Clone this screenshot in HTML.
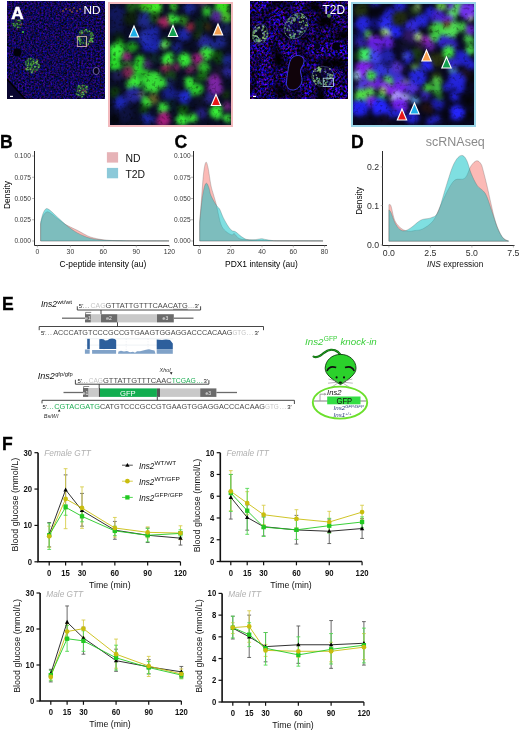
<!DOCTYPE html>
<html><head><meta charset="utf-8"><title>Figure</title>
<style>
html,body{margin:0;padding:0;background:#fff;}
body{width:520px;height:732px;overflow:hidden;}
svg{display:block;}
svg text{font-family:'Liberation Sans', Arial, Helvetica, sans-serif;}
</style></head><body>
<svg width="520" height="732" viewBox="0 0 520 732">
<defs>
<filter id="bl25" x="-10%" y="-10%" width="120%" height="120%"><feGaussianBlur stdDeviation="2.2"/></filter>
<filter id="bl3" x="-10%" y="-10%" width="120%" height="120%"><feGaussianBlur stdDeviation="3"/></filter>
<filter id="bl1" x="-20%" y="-20%" width="140%" height="140%"><feGaussianBlur stdDeviation="0.8"/></filter>
<filter id="nzND" x="0" y="0" width="100%" height="100%" color-interpolation-filters="sRGB">
 <feTurbulence type="fractalNoise" baseFrequency="0.55" numOctaves="2" seed="3" result="t"/>
 <feColorMatrix in="t" type="matrix" values="0.55 0 0.3 0 -0.36  0 0 0 0 0.03  0 0 1.15 0 -0.24  0 0 0 0 1"/>
</filter>
<filter id="nzT2D" x="0" y="0" width="100%" height="100%" color-interpolation-filters="sRGB">
 <feTurbulence type="fractalNoise" baseFrequency="0.42" numOctaves="2" seed="11" result="t"/>
 <feColorMatrix in="t" type="matrix" values="0.9 0 0.6 0 -0.66  0 0 0 0 0.02  0 0 2.6 0 -0.9  0 0 0 0 1" result="c0"/>
 <feGaussianBlur in="c0" stdDeviation="0.35" result="c"/>
 <feTurbulence type="fractalNoise" baseFrequency="0.07" numOctaves="1" seed="5" result="lo"/>
 <feColorMatrix in="lo" type="matrix" values="3 0 0 0 -0.75  3 0 0 0 -0.75  3 0 0 0 -0.75  0 0 0 0 1" result="lm"/>
 <feComposite in="c" in2="lm" operator="arithmetic" k1="1" k2="0" k3="0" k4="0"/>
</filter>
<filter id="nzIs" x="0" y="0" width="100%" height="100%" color-interpolation-filters="sRGB">
 <feTurbulence type="fractalNoise" baseFrequency="0.8" numOctaves="1" seed="5" result="t"/>
 <feColorMatrix in="t" type="matrix" values="0 0 0 0 0  0 0 0 0 0  0 0 0 0 0  -6 0 0 0 3.3"/>
</filter>
<filter id="tex" x="0" y="0" width="100%" height="100%" color-interpolation-filters="sRGB">
 <feTurbulence type="fractalNoise" baseFrequency="0.35" numOctaves="2" seed="9" result="t"/>
 <feColorMatrix in="t" type="matrix" values="0 0 0 0 0  0 0 0 0 0  0 0 0 0 0  -2.2 0 0 0 1.25"/>
</filter>
<filter id="mic1" x="0" y="0" width="100%" height="100%" color-interpolation-filters="sRGB">
 <feTurbulence type="fractalNoise" baseFrequency="0.18" numOctaves="2" seed="4" result="n"/>
 <feDisplacementMap in="SourceGraphic" in2="n" scale="6" xChannelSelector="R" yChannelSelector="G" result="d"/>
 <feGaussianBlur in="d" stdDeviation="2.0" result="b0"/>
 <feColorMatrix in="b0" type="matrix" values="0.85 0 0 0 0  0 1.15 0 0 0  0 0 0.85 0 0  0 0 0 1 0" result="b"/>
 <feTurbulence type="fractalNoise" baseFrequency="0.3" numOctaves="2" seed="8" result="g"/>
 <feColorMatrix in="g" type="matrix" values="1.3 0 0 0 0.38  1.3 0 0 0 0.38  1.3 0 0 0 0.38  0 0 0 0 1" result="gm"/>
 <feComposite in="b" in2="gm" operator="arithmetic" k1="1" k2="0" k3="0" k4="0"/>
</filter>
<filter id="mic2" x="0" y="0" width="100%" height="100%" color-interpolation-filters="sRGB">
 <feTurbulence type="fractalNoise" baseFrequency="0.18" numOctaves="2" seed="14" result="n"/>
 <feDisplacementMap in="SourceGraphic" in2="n" scale="6" xChannelSelector="R" yChannelSelector="G" result="d"/>
 <feGaussianBlur in="d" stdDeviation="2.1" result="b0"/>
 <feColorMatrix in="b0" type="matrix" values="1.0 0 0 0 0  0 1.0 0 0 0  0 0 1.05 0 0  0 0 0 1 0" result="b"/>
 <feTurbulence type="fractalNoise" baseFrequency="0.3" numOctaves="2" seed="18" result="g"/>
 <feColorMatrix in="g" type="matrix" values="1.1 0 0 0 0.48  1.1 0 0 0 0.48  1.1 0 0 0 0.48  0 0 0 0 1" result="gm"/>
 <feComposite in="b" in2="gm" operator="arithmetic" k1="1" k2="0" k3="0" k4="0"/>
</filter>
<clipPath id="cND"><rect x="7" y="1" width="98" height="98"/></clipPath>
<clipPath id="cT2D"><rect x="250" y="1" width="98" height="98"/></clipPath>
<clipPath id="cZ1"><rect x="110" y="4" width="121" height="121"/></clipPath>
<clipPath id="cZ2"><rect x="353" y="4" width="121" height="121"/></clipPath>
</defs><g clip-path="url(#cND)"><rect x="7" y="1" width="98" height="98" filter="url(#nzND)"/><polygon points="7,79 25,99 7,99" fill="#0a0630"/><line x1="7" y1="79" x2="25" y2="99" stroke="#000" stroke-width="1.6"/><circle cx="17.3" cy="52.5" r="4" fill="#020208"/><ellipse cx="96.2" cy="71" rx="3" ry="3.6" fill="#06031a" stroke="#7868b8" stroke-width="0.9"/><path d="M94,75 L88,84" stroke="#06031a" stroke-width="1.2"/><circle cx="66" cy="9" r="1" fill="#a06030" opacity="0.75"/><circle cx="70" cy="10" r="1" fill="#a06030" opacity="0.75"/><circle cx="74" cy="8" r="1" fill="#a06030" opacity="0.75"/><circle cx="77" cy="11" r="1" fill="#a06030" opacity="0.75"/><circle cx="80" cy="9" r="1" fill="#a06030" opacity="0.75"/><circle cx="63" cy="11" r="1" fill="#a06030" opacity="0.75"/><circle cx="72" cy="12" r="1" fill="#a06030" opacity="0.75"/><g><circle cx="17" cy="24" r="5" fill="#1a5a1a" opacity="0.3" filter="url(#bl1)"/><circle cx="20.1" cy="27.4" r="0.6" fill="#348a30" opacity="0.9"/><circle cx="13.6" cy="24.1" r="0.9" fill="#348a30" opacity="0.9"/><circle cx="17.7" cy="24.5" r="0.7" fill="#348a30" opacity="0.9"/><circle cx="17.0" cy="23.8" r="0.8" fill="#6cc850" opacity="0.9"/><circle cx="17.6" cy="28.8" r="0.5" fill="#803050" opacity="0.9"/><circle cx="20.6" cy="24.6" r="0.7" fill="#803050" opacity="0.9"/><circle cx="17.7" cy="27.2" r="0.6" fill="#6cc850" opacity="0.9"/><circle cx="13.7" cy="25.3" r="0.6" fill="#6cc850" opacity="0.9"/><circle cx="17.7" cy="27.3" r="0.5" fill="#6cc850" opacity="0.9"/><circle cx="19.0" cy="20.8" r="0.6" fill="#348a30" opacity="0.9"/><circle cx="21.6" cy="23.8" r="0.6" fill="#6cc850" opacity="0.9"/><circle cx="16.2" cy="19.9" r="0.7" fill="#803050" opacity="0.9"/><circle cx="19.0" cy="20.4" r="0.8" fill="#6cc850" opacity="0.9"/><circle cx="20.4" cy="20.9" r="0.8" fill="#348a30" opacity="0.9"/><circle cx="19.4" cy="24.5" r="0.7" fill="#348a30" opacity="0.9"/><circle cx="18.7" cy="27.3" r="0.8" fill="#348a30" opacity="0.9"/><circle cx="14.7" cy="26.3" r="0.9" fill="#348a30" opacity="0.9"/><circle cx="13.9" cy="23.6" r="0.5" fill="#6cc850" opacity="0.9"/><circle cx="21.0" cy="25.1" r="0.8" fill="#803050" opacity="0.9"/><circle cx="15.4" cy="25.3" r="1.0" fill="#348a30" opacity="0.9"/><circle cx="17.5" cy="20.4" r="0.6" fill="#348a30" opacity="0.9"/><circle cx="12.1" cy="23.6" r="0.7" fill="#348a30" opacity="0.9"/></g><g><circle cx="85.5" cy="37.5" r="8.5" fill="#1a5a1a" opacity="0.3" filter="url(#bl1)"/><circle cx="93.5" cy="35.2" r="0.5" fill="#6cc850" opacity="0.9"/><circle cx="89.4" cy="31.0" r="0.6" fill="#348a30" opacity="0.9"/><circle cx="79.9" cy="33.1" r="0.5" fill="#348a30" opacity="0.9"/><circle cx="79.7" cy="40.2" r="1.0" fill="#348a30" opacity="0.9"/><circle cx="92.1" cy="35.3" r="0.6" fill="#6cc850" opacity="0.9"/><circle cx="90.6" cy="38.7" r="0.6" fill="#6cc850" opacity="0.9"/><circle cx="79.6" cy="43.1" r="0.8" fill="#348a30" opacity="0.9"/><circle cx="86.0" cy="42.7" r="0.5" fill="#6cc850" opacity="0.9"/><circle cx="77.0" cy="37.0" r="0.6" fill="#348a30" opacity="0.9"/><circle cx="91.6" cy="32.7" r="0.9" fill="#348a30" opacity="0.9"/><circle cx="86.1" cy="29.7" r="1.0" fill="#6cc850" opacity="0.9"/><circle cx="91.0" cy="36.2" r="0.8" fill="#348a30" opacity="0.9"/><circle cx="78.8" cy="39.2" r="1.0" fill="#6cc850" opacity="0.9"/><circle cx="77.6" cy="37.5" r="0.9" fill="#6cc850" opacity="0.9"/><circle cx="90.9" cy="33.6" r="1.0" fill="#348a30" opacity="0.9"/><circle cx="84.4" cy="30.8" r="0.6" fill="#6cc850" opacity="0.9"/><circle cx="83.7" cy="32.1" r="0.6" fill="#803050" opacity="0.9"/><circle cx="90.7" cy="34.2" r="0.8" fill="#803050" opacity="0.9"/><circle cx="78.6" cy="37.3" r="0.8" fill="#348a30" opacity="0.9"/><circle cx="83.3" cy="42.9" r="1.0" fill="#348a30" opacity="0.9"/><circle cx="81.7" cy="33.8" r="0.8" fill="#348a30" opacity="0.9"/><circle cx="90.3" cy="34.3" r="0.5" fill="#348a30" opacity="0.9"/><circle cx="82.0" cy="32.6" r="0.9" fill="#6cc850" opacity="0.9"/><circle cx="90.9" cy="41.8" r="0.6" fill="#348a30" opacity="0.9"/><circle cx="87.5" cy="45.3" r="0.8" fill="#6cc850" opacity="0.9"/><circle cx="91.7" cy="38.8" r="0.8" fill="#6cc850" opacity="0.9"/><circle cx="92.7" cy="41.7" r="0.9" fill="#6cc850" opacity="0.9"/><circle cx="91.4" cy="38.3" r="0.5" fill="#348a30" opacity="0.9"/><circle cx="88.5" cy="44.3" r="0.5" fill="#6cc850" opacity="0.9"/><circle cx="91.1" cy="37.1" r="0.6" fill="#6cc850" opacity="0.9"/><circle cx="79.8" cy="32.4" r="0.6" fill="#6cc850" opacity="0.9"/><circle cx="92.0" cy="38.8" r="0.9" fill="#348a30" opacity="0.9"/><circle cx="91.8" cy="33.1" r="0.8" fill="#348a30" opacity="0.9"/><circle cx="79.7" cy="38.5" r="0.6" fill="#348a30" opacity="0.9"/><circle cx="90.8" cy="41.5" r="0.5" fill="#348a30" opacity="0.9"/><circle cx="80.0" cy="34.2" r="0.5" fill="#348a30" opacity="0.9"/><circle cx="91.3" cy="36.0" r="0.7" fill="#348a30" opacity="0.9"/><circle cx="92.5" cy="38.3" r="0.5" fill="#6cc850" opacity="0.9"/><circle cx="91.0" cy="38.7" r="0.8" fill="#6cc850" opacity="0.9"/><circle cx="77.1" cy="37.1" r="1.0" fill="#803050" opacity="0.9"/><circle cx="86.2" cy="44.1" r="0.8" fill="#6cc850" opacity="0.9"/><circle cx="79.9" cy="32.0" r="0.6" fill="#348a30" opacity="0.9"/><circle cx="79.4" cy="40.7" r="0.5" fill="#6cc850" opacity="0.9"/><circle cx="80.9" cy="40.5" r="0.6" fill="#348a30" opacity="0.9"/><circle cx="90.1" cy="40.9" r="0.6" fill="#6cc850" opacity="0.9"/><circle cx="78.9" cy="36.6" r="0.8" fill="#6cc850" opacity="0.9"/><circle cx="87.4" cy="45.5" r="0.9" fill="#803050" opacity="0.9"/><circle cx="79.2" cy="40.3" r="0.5" fill="#348a30" opacity="0.9"/><circle cx="79.5" cy="40.9" r="0.5" fill="#6cc850" opacity="0.9"/><circle cx="87.6" cy="31.5" r="1.0" fill="#348a30" opacity="0.9"/><circle cx="80.8" cy="33.6" r="0.7" fill="#803050" opacity="0.9"/><circle cx="92.9" cy="38.4" r="0.6" fill="#6cc850" opacity="0.9"/><circle cx="89.5" cy="31.3" r="0.7" fill="#6cc850" opacity="0.9"/><circle cx="79.8" cy="41.1" r="0.8" fill="#6cc850" opacity="0.9"/><circle cx="90.9" cy="40.2" r="1.0" fill="#6cc850" opacity="0.9"/><circle cx="92.3" cy="41.0" r="0.8" fill="#6cc850" opacity="0.9"/><circle cx="80.3" cy="41.7" r="0.7" fill="#348a30" opacity="0.9"/><circle cx="89.5" cy="41.3" r="0.9" fill="#6cc850" opacity="0.9"/><circle cx="80.2" cy="31.0" r="0.5" fill="#348a30" opacity="0.9"/><circle cx="81.3" cy="31.0" r="0.7" fill="#348a30" opacity="0.9"/><circle cx="81.3" cy="42.7" r="0.6" fill="#348a30" opacity="0.9"/><circle cx="78.9" cy="36.4" r="0.9" fill="#803050" opacity="0.9"/><circle cx="92.7" cy="34.2" r="0.6" fill="#6cc850" opacity="0.9"/><circle cx="79.5" cy="37.9" r="0.8" fill="#6cc850" opacity="0.9"/><circle cx="91.7" cy="34.0" r="0.5" fill="#348a30" opacity="0.9"/><circle cx="80.3" cy="44.2" r="0.7" fill="#6cc850" opacity="0.9"/><circle cx="90.4" cy="39.7" r="1.0" fill="#348a30" opacity="0.9"/><circle cx="82.2" cy="33.1" r="0.6" fill="#6cc850" opacity="0.9"/><circle cx="82.0" cy="31.0" r="0.7" fill="#6cc850" opacity="0.9"/><circle cx="90.8" cy="42.0" r="0.9" fill="#803050" opacity="0.9"/><circle cx="91.1" cy="41.4" r="0.6" fill="#348a30" opacity="0.9"/><circle cx="90.8" cy="33.4" r="0.7" fill="#348a30" opacity="0.9"/><circle cx="93.3" cy="37.3" r="0.5" fill="#348a30" opacity="0.9"/><circle cx="80.7" cy="39.4" r="0.9" fill="#348a30" opacity="0.9"/><circle cx="88.4" cy="43.7" r="0.7" fill="#6cc850" opacity="0.9"/></g><g><circle cx="32" cy="65.5" r="7.5" fill="#1a5a1a" opacity="0.3" filter="url(#bl1)"/><circle cx="32.4" cy="71.0" r="0.8" fill="#6cc850" opacity="0.9"/><circle cx="30.6" cy="64.1" r="0.9" fill="#6cc850" opacity="0.9"/><circle cx="31.8" cy="69.1" r="0.7" fill="#803050" opacity="0.9"/><circle cx="34.7" cy="61.1" r="0.5" fill="#348a30" opacity="0.9"/><circle cx="27.4" cy="60.3" r="0.9" fill="#348a30" opacity="0.9"/><circle cx="31.1" cy="63.8" r="0.8" fill="#348a30" opacity="0.9"/><circle cx="31.6" cy="66.8" r="0.7" fill="#348a30" opacity="0.9"/><circle cx="30.6" cy="58.6" r="1.0" fill="#348a30" opacity="0.9"/><circle cx="26.7" cy="69.6" r="1.0" fill="#6cc850" opacity="0.9"/><circle cx="33.7" cy="63.9" r="0.6" fill="#6cc850" opacity="0.9"/><circle cx="36.8" cy="64.4" r="0.6" fill="#348a30" opacity="0.9"/><circle cx="27.3" cy="65.3" r="0.8" fill="#6cc850" opacity="0.9"/><circle cx="25.8" cy="61.9" r="1.0" fill="#348a30" opacity="0.9"/><circle cx="36.6" cy="59.6" r="0.5" fill="#348a30" opacity="0.9"/><circle cx="36.7" cy="59.8" r="0.8" fill="#803050" opacity="0.9"/><circle cx="31.2" cy="62.1" r="0.8" fill="#348a30" opacity="0.9"/><circle cx="31.6" cy="67.3" r="1.0" fill="#348a30" opacity="0.9"/><circle cx="37.7" cy="69.0" r="0.5" fill="#6cc850" opacity="0.9"/><circle cx="30.2" cy="71.8" r="0.5" fill="#348a30" opacity="0.9"/><circle cx="30.8" cy="64.5" r="0.6" fill="#348a30" opacity="0.9"/><circle cx="37.4" cy="60.4" r="1.0" fill="#348a30" opacity="0.9"/><circle cx="31.2" cy="67.4" r="0.5" fill="#348a30" opacity="0.9"/><circle cx="33.6" cy="70.0" r="0.5" fill="#348a30" opacity="0.9"/><circle cx="38.7" cy="67.3" r="1.0" fill="#6cc850" opacity="0.9"/><circle cx="35.7" cy="62.7" r="0.7" fill="#6cc850" opacity="0.9"/><circle cx="28.4" cy="61.0" r="0.8" fill="#348a30" opacity="0.9"/><circle cx="37.0" cy="63.6" r="0.8" fill="#6cc850" opacity="0.9"/><circle cx="32.3" cy="69.6" r="0.7" fill="#803050" opacity="0.9"/><circle cx="31.2" cy="65.3" r="0.8" fill="#6cc850" opacity="0.9"/><circle cx="37.8" cy="66.2" r="0.5" fill="#348a30" opacity="0.9"/><circle cx="28.4" cy="61.8" r="0.6" fill="#348a30" opacity="0.9"/><circle cx="30.3" cy="59.3" r="0.5" fill="#6cc850" opacity="0.9"/><circle cx="28.7" cy="58.9" r="0.7" fill="#6cc850" opacity="0.9"/><circle cx="28.5" cy="63.2" r="0.6" fill="#6cc850" opacity="0.9"/><circle cx="28.1" cy="69.7" r="0.7" fill="#6cc850" opacity="0.9"/><circle cx="32.2" cy="64.3" r="0.9" fill="#348a30" opacity="0.9"/><circle cx="30.7" cy="68.8" r="0.6" fill="#348a30" opacity="0.9"/><circle cx="33.9" cy="70.1" r="0.5" fill="#348a30" opacity="0.9"/><circle cx="30.1" cy="69.4" r="0.7" fill="#348a30" opacity="0.9"/><circle cx="33.9" cy="63.1" r="0.8" fill="#6cc850" opacity="0.9"/><circle cx="35.8" cy="62.2" r="0.5" fill="#6cc850" opacity="0.9"/><circle cx="28.8" cy="64.9" r="0.9" fill="#348a30" opacity="0.9"/><circle cx="33.6" cy="69.1" r="0.8" fill="#348a30" opacity="0.9"/><circle cx="33.5" cy="61.4" r="0.6" fill="#6cc850" opacity="0.9"/><circle cx="33.1" cy="61.7" r="0.7" fill="#6cc850" opacity="0.9"/><circle cx="27.8" cy="67.8" r="0.5" fill="#803050" opacity="0.9"/><circle cx="39.3" cy="65.7" r="1.0" fill="#348a30" opacity="0.9"/><circle cx="25.3" cy="68.4" r="0.6" fill="#803050" opacity="0.9"/><circle cx="31.8" cy="58.6" r="0.7" fill="#348a30" opacity="0.9"/><circle cx="30.9" cy="69.7" r="0.5" fill="#6cc850" opacity="0.9"/><circle cx="28.6" cy="63.4" r="0.5" fill="#348a30" opacity="0.9"/><circle cx="37.1" cy="61.9" r="0.9" fill="#803050" opacity="0.9"/><circle cx="36.6" cy="62.1" r="0.9" fill="#6cc850" opacity="0.9"/><circle cx="33.9" cy="69.1" r="0.7" fill="#348a30" opacity="0.9"/><circle cx="25.8" cy="69.2" r="0.6" fill="#348a30" opacity="0.9"/><circle cx="31.9" cy="72.5" r="0.9" fill="#6cc850" opacity="0.9"/><circle cx="30.0" cy="68.2" r="0.9" fill="#348a30" opacity="0.9"/><circle cx="35.2" cy="71.4" r="0.9" fill="#803050" opacity="0.9"/><circle cx="32.3" cy="64.9" r="0.9" fill="#348a30" opacity="0.9"/><circle cx="35.7" cy="66.7" r="0.7" fill="#6cc850" opacity="0.9"/><circle cx="27.4" cy="67.9" r="0.5" fill="#348a30" opacity="0.9"/><circle cx="34.5" cy="66.4" r="0.5" fill="#6cc850" opacity="0.9"/><circle cx="38.8" cy="64.4" r="0.7" fill="#6cc850" opacity="0.9"/><circle cx="30.3" cy="69.4" r="0.8" fill="#6cc850" opacity="0.9"/><circle cx="28.1" cy="63.2" r="0.6" fill="#6cc850" opacity="0.9"/><circle cx="36.0" cy="69.4" r="0.7" fill="#348a30" opacity="0.9"/><circle cx="34.8" cy="67.0" r="0.8" fill="#6cc850" opacity="0.9"/><circle cx="32.9" cy="61.0" r="0.8" fill="#348a30" opacity="0.9"/><circle cx="27.8" cy="67.4" r="0.8" fill="#6cc850" opacity="0.9"/><circle cx="26.5" cy="68.5" r="0.6" fill="#6cc850" opacity="0.9"/><circle cx="25.9" cy="64.1" r="0.7" fill="#6cc850" opacity="0.9"/><circle cx="25.7" cy="68.7" r="0.7" fill="#803050" opacity="0.9"/><circle cx="37.3" cy="61.5" r="0.7" fill="#6cc850" opacity="0.9"/><circle cx="36.8" cy="70.2" r="0.9" fill="#348a30" opacity="0.9"/><circle cx="33.6" cy="59.6" r="0.8" fill="#348a30" opacity="0.9"/></g><g><circle cx="81.8" cy="90.5" r="6.5" fill="#1a5a1a" opacity="0.3" filter="url(#bl1)"/><circle cx="82.0" cy="92.6" r="0.5" fill="#6cc850" opacity="0.9"/><circle cx="85.6" cy="92.2" r="0.9" fill="#803050" opacity="0.9"/><circle cx="82.1" cy="87.5" r="0.6" fill="#348a30" opacity="0.9"/><circle cx="82.8" cy="92.4" r="1.0" fill="#6cc850" opacity="0.9"/><circle cx="84.6" cy="85.4" r="0.6" fill="#348a30" opacity="0.9"/><circle cx="79.9" cy="95.3" r="0.9" fill="#348a30" opacity="0.9"/><circle cx="83.2" cy="89.2" r="0.8" fill="#348a30" opacity="0.9"/><circle cx="79.1" cy="90.4" r="0.5" fill="#6cc850" opacity="0.9"/><circle cx="87.3" cy="88.1" r="0.6" fill="#348a30" opacity="0.9"/><circle cx="85.9" cy="87.8" r="0.9" fill="#348a30" opacity="0.9"/><circle cx="77.6" cy="90.3" r="0.7" fill="#348a30" opacity="0.9"/><circle cx="83.7" cy="93.5" r="0.5" fill="#348a30" opacity="0.9"/><circle cx="86.7" cy="92.0" r="0.7" fill="#6cc850" opacity="0.9"/><circle cx="78.1" cy="91.2" r="0.6" fill="#803050" opacity="0.9"/><circle cx="79.3" cy="92.0" r="0.6" fill="#348a30" opacity="0.9"/><circle cx="78.3" cy="94.9" r="0.8" fill="#6cc850" opacity="0.9"/><circle cx="83.5" cy="89.3" r="0.6" fill="#6cc850" opacity="0.9"/><circle cx="82.3" cy="85.4" r="0.6" fill="#6cc850" opacity="0.9"/><circle cx="83.7" cy="94.5" r="0.8" fill="#6cc850" opacity="0.9"/><circle cx="86.8" cy="86.6" r="1.0" fill="#348a30" opacity="0.9"/><circle cx="85.3" cy="90.9" r="0.9" fill="#803050" opacity="0.9"/><circle cx="76.5" cy="93.9" r="0.9" fill="#348a30" opacity="0.9"/><circle cx="81.0" cy="93.2" r="0.5" fill="#6cc850" opacity="0.9"/><circle cx="77.1" cy="94.8" r="0.5" fill="#6cc850" opacity="0.9"/><circle cx="84.4" cy="91.2" r="0.6" fill="#348a30" opacity="0.9"/><circle cx="81.3" cy="92.5" r="0.7" fill="#803050" opacity="0.9"/><circle cx="82.2" cy="92.0" r="0.5" fill="#6cc850" opacity="0.9"/><circle cx="80.7" cy="88.2" r="0.7" fill="#6cc850" opacity="0.9"/><circle cx="81.8" cy="97.0" r="0.7" fill="#6cc850" opacity="0.9"/><circle cx="82.4" cy="86.4" r="0.7" fill="#803050" opacity="0.9"/><circle cx="82.0" cy="94.7" r="0.7" fill="#6cc850" opacity="0.9"/><circle cx="81.9" cy="96.6" r="0.7" fill="#348a30" opacity="0.9"/><circle cx="85.0" cy="91.1" r="0.6" fill="#6cc850" opacity="0.9"/><circle cx="82.5" cy="96.5" r="0.5" fill="#6cc850" opacity="0.9"/><circle cx="86.2" cy="88.4" r="0.7" fill="#803050" opacity="0.9"/><circle cx="86.1" cy="87.4" r="0.9" fill="#348a30" opacity="0.9"/><circle cx="79.8" cy="90.6" r="0.9" fill="#6cc850" opacity="0.9"/><circle cx="86.9" cy="86.8" r="0.8" fill="#6cc850" opacity="0.9"/><circle cx="83.4" cy="85.5" r="0.7" fill="#348a30" opacity="0.9"/><circle cx="78.8" cy="86.1" r="1.0" fill="#6cc850" opacity="0.9"/><circle cx="83.5" cy="90.0" r="1.0" fill="#803050" opacity="0.9"/><circle cx="81.1" cy="89.3" r="0.5" fill="#348a30" opacity="0.9"/><circle cx="87.0" cy="89.5" r="0.5" fill="#6cc850" opacity="0.9"/><circle cx="78.6" cy="86.8" r="1.0" fill="#348a30" opacity="0.9"/><circle cx="81.9" cy="90.9" r="0.5" fill="#803050" opacity="0.9"/><circle cx="83.4" cy="88.9" r="0.9" fill="#348a30" opacity="0.9"/><circle cx="85.3" cy="87.2" r="0.6" fill="#348a30" opacity="0.9"/><circle cx="80.0" cy="87.2" r="0.9" fill="#348a30" opacity="0.9"/><circle cx="77.2" cy="91.3" r="0.5" fill="#6cc850" opacity="0.9"/><circle cx="78.0" cy="88.0" r="0.8" fill="#348a30" opacity="0.9"/></g><circle cx="23" cy="32" r="1" fill="#3ec83e"/></g><rect x="77.3" y="36.6" width="9.3" height="9.9" fill="none" stroke="#e2c4b8" stroke-width="0.8"/><rect x="10" y="95.8" width="3" height="1.2" fill="#fff"/><text x="11.2" y="18.8" font-size="17.2" fill="#fff" font-weight="bold" stroke="#fff" stroke-width="0.5">A</text><text x="83.4" y="14.3" font-size="11.8" fill="#fff">ND</text><g clip-path="url(#cT2D)"><rect x="250" y="1" width="98" height="98" filter="url(#nzT2D)"/><path d="M297,55.5 C301,55 304.5,58 304,62 C303.5,66 300,68 300.5,72 C301,76 303,79 301.5,83 C300,87 296,90.5 292,90 C288,89.5 286,86 286.5,82 C287,76 288,70 289,65 C290,59 293,56 297,55.5 Z" fill="#10030a" stroke="#3a3ad8" stroke-width="1"/><circle cx="336" cy="46.5" r="3.8" fill="#03020c"/><circle cx="317.3" cy="46.5" r="2.8" fill="#06041a"/><g><ellipse cx="296" cy="26" rx="10.7" ry="13.8" transform="rotate(35 296 26)" fill="#0a0828" fill-opacity="0.5" stroke="#8aa8e0" stroke-width="0.8" stroke-opacity="0.4"/><circle cx="294.0" cy="36.8" r="0.8" fill="#a0d0a0" opacity="0.8"/><circle cx="290.8" cy="37.0" r="0.6" fill="#50a080" opacity="0.8"/><circle cx="289.5" cy="18.9" r="0.7" fill="#88c060" opacity="0.8"/><circle cx="294.4" cy="21.1" r="1.0" fill="#60a050" opacity="0.8"/><circle cx="299.1" cy="17.0" r="0.8" fill="#6868c8" opacity="0.8"/><circle cx="300.4" cy="31.4" r="0.9" fill="#6868c8" opacity="0.8"/><circle cx="297.1" cy="13.9" r="0.6" fill="#88c060" opacity="0.8"/><circle cx="301.4" cy="22.2" r="0.7" fill="#88c060" opacity="0.8"/><circle cx="292.2" cy="19.9" r="0.6" fill="#6868c8" opacity="0.8"/><circle cx="297.7" cy="16.7" r="0.5" fill="#60a050" opacity="0.8"/><circle cx="292.1" cy="36.6" r="1.0" fill="#50a080" opacity="0.8"/><circle cx="299.5" cy="34.1" r="1.0" fill="#50a080" opacity="0.8"/><circle cx="291.4" cy="38.0" r="0.7" fill="#50a080" opacity="0.8"/><circle cx="287.6" cy="29.1" r="0.7" fill="#6868c8" opacity="0.8"/><circle cx="290.3" cy="23.0" r="0.6" fill="#88c060" opacity="0.8"/><circle cx="301.7" cy="14.0" r="0.8" fill="#88c060" opacity="0.8"/><circle cx="290.9" cy="17.9" r="0.8" fill="#60a050" opacity="0.8"/><circle cx="285.5" cy="33.5" r="0.6" fill="#88c060" opacity="0.8"/><circle cx="294.2" cy="34.4" r="0.7" fill="#a0d0a0" opacity="0.8"/><circle cx="294.3" cy="18.8" r="0.6" fill="#88c060" opacity="0.8"/><circle cx="302.1" cy="26.1" r="0.7" fill="#6868c8" opacity="0.8"/><circle cx="299.0" cy="15.3" r="0.7" fill="#60a050" opacity="0.8"/><circle cx="305.0" cy="31.2" r="0.5" fill="#50a080" opacity="0.8"/><circle cx="287.4" cy="30.3" r="1.0" fill="#60a050" opacity="0.8"/><circle cx="290.0" cy="34.9" r="0.9" fill="#6868c8" opacity="0.8"/><circle cx="302.7" cy="18.5" r="0.5" fill="#a0d0a0" opacity="0.8"/><circle cx="290.9" cy="32.8" r="0.6" fill="#6868c8" opacity="0.8"/><circle cx="285.1" cy="27.9" r="1.0" fill="#60a050" opacity="0.8"/><circle cx="301.6" cy="17.6" r="0.6" fill="#a0d0a0" opacity="0.8"/><circle cx="297.2" cy="14.0" r="0.5" fill="#6868c8" opacity="0.8"/><circle cx="290.9" cy="37.3" r="1.0" fill="#60a050" opacity="0.8"/><circle cx="294.3" cy="17.8" r="1.0" fill="#50a080" opacity="0.8"/><circle cx="291.0" cy="23.7" r="0.7" fill="#50a080" opacity="0.8"/><circle cx="299.5" cy="21.9" r="1.0" fill="#60a050" opacity="0.8"/><circle cx="302.0" cy="32.1" r="1.0" fill="#60a050" opacity="0.8"/><circle cx="293.9" cy="19.5" r="0.9" fill="#6868c8" opacity="0.8"/><circle cx="301.4" cy="21.9" r="0.6" fill="#60a050" opacity="0.8"/><circle cx="297.2" cy="30.6" r="0.9" fill="#6868c8" opacity="0.8"/><circle cx="298.2" cy="31.1" r="0.6" fill="#a0d0a0" opacity="0.8"/><circle cx="291.8" cy="20.5" r="1.0" fill="#6868c8" opacity="0.8"/><circle cx="295.5" cy="19.4" r="0.6" fill="#6868c8" opacity="0.8"/><circle cx="302.6" cy="16.0" r="0.9" fill="#50a080" opacity="0.8"/><circle cx="306.4" cy="22.7" r="0.7" fill="#88c060" opacity="0.8"/><circle cx="304.0" cy="23.0" r="0.6" fill="#50a080" opacity="0.8"/><circle cx="299.3" cy="18.6" r="0.7" fill="#50a080" opacity="0.8"/><circle cx="300.4" cy="32.0" r="0.9" fill="#a0d0a0" opacity="0.8"/><circle cx="304.3" cy="30.9" r="0.8" fill="#50a080" opacity="0.8"/><circle cx="292.6" cy="17.9" r="0.8" fill="#88c060" opacity="0.8"/><circle cx="302.8" cy="14.6" r="0.7" fill="#a0d0a0" opacity="0.8"/><circle cx="295.4" cy="15.2" r="0.5" fill="#60a050" opacity="0.8"/><circle cx="306.4" cy="18.3" r="0.5" fill="#a0d0a0" opacity="0.8"/><circle cx="297.3" cy="17.1" r="0.9" fill="#88c060" opacity="0.8"/><circle cx="295.5" cy="14.9" r="0.8" fill="#6868c8" opacity="0.8"/><circle cx="305.1" cy="27.8" r="0.8" fill="#6868c8" opacity="0.8"/><circle cx="288.5" cy="19.5" r="0.6" fill="#88c060" opacity="0.8"/><circle cx="300.2" cy="32.5" r="0.7" fill="#60a050" opacity="0.8"/><circle cx="293.8" cy="18.3" r="0.8" fill="#6868c8" opacity="0.8"/><circle cx="291.2" cy="34.0" r="0.6" fill="#6868c8" opacity="0.8"/><circle cx="305.5" cy="25.6" r="0.8" fill="#88c060" opacity="0.8"/><circle cx="288.2" cy="21.2" r="0.9" fill="#60a050" opacity="0.8"/><circle cx="295.6" cy="15.2" r="0.9" fill="#50a080" opacity="0.8"/><circle cx="298.1" cy="18.5" r="0.7" fill="#6868c8" opacity="0.8"/><circle cx="294.8" cy="15.1" r="0.6" fill="#88c060" opacity="0.8"/><circle cx="291.4" cy="37.7" r="0.5" fill="#60a050" opacity="0.8"/><circle cx="293.7" cy="35.7" r="1.0" fill="#50a080" opacity="0.8"/><circle cx="301.4" cy="17.6" r="1.0" fill="#88c060" opacity="0.8"/><circle cx="294.3" cy="35.1" r="0.7" fill="#a0d0a0" opacity="0.8"/><circle cx="293.9" cy="20.1" r="1.0" fill="#88c060" opacity="0.8"/><circle cx="289.5" cy="30.4" r="1.0" fill="#60a050" opacity="0.8"/><circle cx="291.1" cy="22.1" r="0.9" fill="#a0d0a0" opacity="0.8"/><circle cx="294.8" cy="34.7" r="0.7" fill="#6868c8" opacity="0.8"/><circle cx="295.3" cy="18.6" r="0.9" fill="#60a050" opacity="0.8"/><circle cx="295.6" cy="20.2" r="0.5" fill="#60a050" opacity="0.8"/><circle cx="306.1" cy="18.2" r="0.5" fill="#a0d0a0" opacity="0.8"/><circle cx="292.3" cy="23.4" r="0.7" fill="#50a080" opacity="0.8"/><circle cx="285.5" cy="23.7" r="0.6" fill="#50a080" opacity="0.8"/><circle cx="301.5" cy="28.3" r="1.0" fill="#a0d0a0" opacity="0.8"/><circle cx="290.1" cy="28.0" r="0.8" fill="#6868c8" opacity="0.8"/><circle cx="299.2" cy="31.1" r="1.0" fill="#6868c8" opacity="0.8"/><circle cx="290.1" cy="35.0" r="1.0" fill="#50a080" opacity="0.8"/><circle cx="300.7" cy="24.8" r="0.5" fill="#50a080" opacity="0.8"/><circle cx="285.9" cy="24.9" r="0.6" fill="#60a050" opacity="0.8"/><circle cx="289.3" cy="21.5" r="0.8" fill="#50a080" opacity="0.8"/><circle cx="287.0" cy="22.4" r="0.6" fill="#a0d0a0" opacity="0.8"/><circle cx="295.1" cy="33.9" r="1.0" fill="#88c060" opacity="0.8"/><circle cx="298.0" cy="30.6" r="0.6" fill="#50a080" opacity="0.8"/><circle cx="303.4" cy="21.3" r="0.5" fill="#a0d0a0" opacity="0.8"/><circle cx="301.0" cy="32.4" r="0.6" fill="#6868c8" opacity="0.8"/><circle cx="298.1" cy="37.2" r="0.6" fill="#50a080" opacity="0.8"/><circle cx="293.4" cy="33.0" r="0.7" fill="#50a080" opacity="0.8"/><circle cx="289.7" cy="30.1" r="0.5" fill="#50a080" opacity="0.8"/><circle cx="287.2" cy="30.1" r="0.5" fill="#60a050" opacity="0.8"/><circle cx="287.4" cy="29.0" r="0.9" fill="#6868c8" opacity="0.8"/><circle cx="305.8" cy="25.0" r="0.9" fill="#60a050" opacity="0.8"/><circle cx="296.9" cy="15.8" r="1.0" fill="#50a080" opacity="0.8"/><circle cx="302.9" cy="28.7" r="1.0" fill="#6868c8" opacity="0.8"/><circle cx="299.9" cy="22.4" r="0.6" fill="#a0d0a0" opacity="0.8"/><circle cx="292.5" cy="30.3" r="0.9" fill="#6868c8" opacity="0.8"/><circle cx="294.0" cy="38.2" r="0.8" fill="#50a080" opacity="0.8"/><circle cx="289.3" cy="26.4" r="0.8" fill="#50a080" opacity="0.8"/><circle cx="304.0" cy="17.2" r="1.0" fill="#a0d0a0" opacity="0.8"/><circle cx="290.2" cy="35.3" r="0.8" fill="#a0d0a0" opacity="0.8"/><circle cx="303.1" cy="20.7" r="1.0" fill="#60a050" opacity="0.8"/><circle cx="307.2" cy="25.3" r="1.0" fill="#88c060" opacity="0.8"/><circle cx="302.4" cy="15.9" r="1.0" fill="#60a050" opacity="0.8"/><circle cx="288.9" cy="18.8" r="0.7" fill="#50a080" opacity="0.8"/><circle cx="294.3" cy="36.6" r="0.9" fill="#50a080" opacity="0.8"/><circle cx="303.8" cy="17.0" r="0.6" fill="#60a050" opacity="0.8"/><circle cx="288.4" cy="25.5" r="0.8" fill="#6868c8" opacity="0.8"/><circle cx="302.0" cy="34.1" r="0.5" fill="#60a050" opacity="0.8"/></g><g><ellipse cx="260" cy="34" rx="7.7" ry="10.2" transform="rotate(10 260 34)" fill="#0a0828" fill-opacity="0.5" stroke="#8aa8e0" stroke-width="0.8" stroke-opacity="0.4"/><circle cx="263.9" cy="33.3" r="0.8" fill="#88c060" opacity="0.8"/><circle cx="253.5" cy="35.7" r="0.9" fill="#a0d0a0" opacity="0.8"/><circle cx="263.5" cy="37.6" r="0.7" fill="#88c060" opacity="0.8"/><circle cx="255.2" cy="27.3" r="0.9" fill="#6868c8" opacity="0.8"/><circle cx="266.2" cy="38.0" r="0.6" fill="#50a080" opacity="0.8"/><circle cx="256.0" cy="35.9" r="0.8" fill="#88c060" opacity="0.8"/><circle cx="266.7" cy="31.7" r="0.5" fill="#50a080" opacity="0.8"/><circle cx="256.7" cy="39.4" r="1.0" fill="#60a050" opacity="0.8"/><circle cx="256.0" cy="41.8" r="0.6" fill="#50a080" opacity="0.8"/><circle cx="264.2" cy="27.1" r="0.7" fill="#60a050" opacity="0.8"/><circle cx="254.7" cy="41.2" r="1.0" fill="#6868c8" opacity="0.8"/><circle cx="254.4" cy="32.7" r="0.7" fill="#6868c8" opacity="0.8"/><circle cx="264.1" cy="32.1" r="0.7" fill="#50a080" opacity="0.8"/><circle cx="256.5" cy="30.2" r="0.8" fill="#50a080" opacity="0.8"/><circle cx="253.8" cy="31.4" r="0.7" fill="#50a080" opacity="0.8"/><circle cx="263.8" cy="38.6" r="0.7" fill="#88c060" opacity="0.8"/><circle cx="253.2" cy="38.4" r="0.8" fill="#60a050" opacity="0.8"/><circle cx="256.6" cy="36.3" r="0.6" fill="#60a050" opacity="0.8"/><circle cx="255.6" cy="31.3" r="1.0" fill="#a0d0a0" opacity="0.8"/><circle cx="257.2" cy="28.2" r="0.8" fill="#88c060" opacity="0.8"/><circle cx="263.2" cy="26.4" r="0.9" fill="#60a050" opacity="0.8"/><circle cx="262.8" cy="37.9" r="1.0" fill="#88c060" opacity="0.8"/><circle cx="265.4" cy="31.4" r="0.8" fill="#88c060" opacity="0.8"/><circle cx="254.3" cy="31.8" r="0.8" fill="#6868c8" opacity="0.8"/><circle cx="265.3" cy="38.5" r="1.0" fill="#88c060" opacity="0.8"/><circle cx="255.5" cy="27.0" r="0.6" fill="#88c060" opacity="0.8"/><circle cx="257.4" cy="37.3" r="0.6" fill="#88c060" opacity="0.8"/><circle cx="259.3" cy="27.0" r="0.6" fill="#a0d0a0" opacity="0.8"/><circle cx="263.2" cy="37.2" r="1.0" fill="#88c060" opacity="0.8"/><circle cx="254.9" cy="31.5" r="0.6" fill="#88c060" opacity="0.8"/><circle cx="258.6" cy="38.6" r="0.8" fill="#6868c8" opacity="0.8"/><circle cx="256.5" cy="36.3" r="1.0" fill="#50a080" opacity="0.8"/><circle cx="264.6" cy="36.5" r="0.5" fill="#50a080" opacity="0.8"/><circle cx="260.4" cy="41.4" r="0.5" fill="#6868c8" opacity="0.8"/><circle cx="259.2" cy="27.2" r="0.6" fill="#a0d0a0" opacity="0.8"/><circle cx="259.5" cy="40.1" r="1.0" fill="#88c060" opacity="0.8"/><circle cx="256.7" cy="31.2" r="0.5" fill="#a0d0a0" opacity="0.8"/><circle cx="254.0" cy="33.0" r="1.0" fill="#88c060" opacity="0.8"/><circle cx="259.6" cy="27.9" r="0.6" fill="#88c060" opacity="0.8"/><circle cx="263.2" cy="27.7" r="0.7" fill="#60a050" opacity="0.8"/><circle cx="255.0" cy="36.0" r="1.0" fill="#a0d0a0" opacity="0.8"/><circle cx="261.8" cy="30.7" r="0.8" fill="#6868c8" opacity="0.8"/><circle cx="264.4" cy="40.7" r="0.8" fill="#50a080" opacity="0.8"/><circle cx="254.3" cy="40.2" r="0.6" fill="#50a080" opacity="0.8"/><circle cx="258.3" cy="41.5" r="1.0" fill="#a0d0a0" opacity="0.8"/><circle cx="253.7" cy="32.4" r="1.0" fill="#60a050" opacity="0.8"/><circle cx="260.8" cy="40.8" r="0.7" fill="#88c060" opacity="0.8"/><circle cx="258.5" cy="29.0" r="0.5" fill="#60a050" opacity="0.8"/><circle cx="264.8" cy="31.7" r="0.8" fill="#88c060" opacity="0.8"/><circle cx="264.0" cy="33.7" r="0.7" fill="#50a080" opacity="0.8"/><circle cx="262.9" cy="33.4" r="0.9" fill="#a0d0a0" opacity="0.8"/><circle cx="266.9" cy="36.6" r="0.9" fill="#88c060" opacity="0.8"/><circle cx="262.4" cy="30.0" r="1.0" fill="#88c060" opacity="0.8"/><circle cx="258.7" cy="40.2" r="1.0" fill="#a0d0a0" opacity="0.8"/><circle cx="254.1" cy="37.3" r="0.7" fill="#50a080" opacity="0.8"/><circle cx="267.4" cy="33.5" r="1.0" fill="#88c060" opacity="0.8"/><circle cx="263.3" cy="26.5" r="0.9" fill="#a0d0a0" opacity="0.8"/><circle cx="264.4" cy="34.9" r="1.0" fill="#88c060" opacity="0.8"/><circle cx="258.4" cy="37.7" r="0.6" fill="#a0d0a0" opacity="0.8"/><circle cx="266.6" cy="30.0" r="0.6" fill="#60a050" opacity="0.8"/><circle cx="257.7" cy="40.5" r="0.9" fill="#60a050" opacity="0.8"/><circle cx="256.7" cy="40.9" r="1.0" fill="#50a080" opacity="0.8"/><circle cx="257.2" cy="36.6" r="0.8" fill="#a0d0a0" opacity="0.8"/><circle cx="259.9" cy="39.0" r="0.9" fill="#60a050" opacity="0.8"/><circle cx="255.4" cy="30.6" r="1.0" fill="#a0d0a0" opacity="0.8"/><circle cx="262.3" cy="29.9" r="0.7" fill="#6868c8" opacity="0.8"/><circle cx="261.5" cy="40.3" r="0.6" fill="#a0d0a0" opacity="0.8"/><circle cx="263.1" cy="40.9" r="0.7" fill="#6868c8" opacity="0.8"/><circle cx="255.3" cy="31.5" r="0.9" fill="#6868c8" opacity="0.8"/><circle cx="258.6" cy="27.7" r="0.9" fill="#a0d0a0" opacity="0.8"/><circle cx="263.7" cy="32.7" r="0.9" fill="#6868c8" opacity="0.8"/><circle cx="264.5" cy="38.7" r="0.8" fill="#a0d0a0" opacity="0.8"/><circle cx="266.9" cy="36.5" r="0.9" fill="#50a080" opacity="0.8"/><circle cx="254.5" cy="31.1" r="1.0" fill="#60a050" opacity="0.8"/><circle cx="256.3" cy="39.4" r="0.9" fill="#50a080" opacity="0.8"/><circle cx="262.5" cy="25.9" r="0.8" fill="#6868c8" opacity="0.8"/><circle cx="262.9" cy="29.0" r="0.9" fill="#60a050" opacity="0.8"/><circle cx="259.6" cy="41.7" r="0.8" fill="#a0d0a0" opacity="0.8"/><circle cx="257.1" cy="29.9" r="0.6" fill="#50a080" opacity="0.8"/><circle cx="253.1" cy="35.1" r="0.8" fill="#88c060" opacity="0.8"/></g><g><ellipse cx="323" cy="76.5" rx="11.2" ry="10.2" transform="rotate(0 323 76.5)" fill="#0a0828" fill-opacity="0.5" stroke="#8aa8e0" stroke-width="0.8" stroke-opacity="0.4"/><circle cx="332.6" cy="72.1" r="0.5" fill="#88c060" opacity="0.8"/><circle cx="320.4" cy="82.9" r="0.6" fill="#a0d0a0" opacity="0.8"/><circle cx="325.8" cy="83.3" r="0.8" fill="#60a050" opacity="0.8"/><circle cx="327.4" cy="73.7" r="0.7" fill="#6868c8" opacity="0.8"/><circle cx="313.4" cy="75.8" r="0.9" fill="#a0d0a0" opacity="0.8"/><circle cx="324.3" cy="80.6" r="0.9" fill="#a0d0a0" opacity="0.8"/><circle cx="315.1" cy="69.7" r="0.8" fill="#a0d0a0" opacity="0.8"/><circle cx="329.9" cy="68.9" r="0.9" fill="#a0d0a0" opacity="0.8"/><circle cx="321.0" cy="80.8" r="0.6" fill="#6868c8" opacity="0.8"/><circle cx="313.1" cy="77.5" r="0.6" fill="#60a050" opacity="0.8"/><circle cx="326.1" cy="82.4" r="0.6" fill="#50a080" opacity="0.8"/><circle cx="327.0" cy="79.7" r="0.8" fill="#88c060" opacity="0.8"/><circle cx="329.4" cy="74.2" r="0.7" fill="#50a080" opacity="0.8"/><circle cx="318.3" cy="81.1" r="1.0" fill="#a0d0a0" opacity="0.8"/><circle cx="316.9" cy="78.1" r="0.6" fill="#60a050" opacity="0.8"/><circle cx="325.0" cy="68.0" r="0.6" fill="#6868c8" opacity="0.8"/><circle cx="312.8" cy="73.8" r="0.6" fill="#50a080" opacity="0.8"/><circle cx="317.0" cy="81.4" r="0.5" fill="#88c060" opacity="0.8"/><circle cx="319.1" cy="78.6" r="0.9" fill="#60a050" opacity="0.8"/><circle cx="332.9" cy="75.0" r="0.8" fill="#88c060" opacity="0.8"/><circle cx="332.7" cy="75.8" r="0.5" fill="#a0d0a0" opacity="0.8"/><circle cx="325.0" cy="69.2" r="0.5" fill="#88c060" opacity="0.8"/><circle cx="316.9" cy="77.7" r="1.0" fill="#6868c8" opacity="0.8"/><circle cx="324.1" cy="81.3" r="0.9" fill="#50a080" opacity="0.8"/><circle cx="319.8" cy="69.1" r="0.6" fill="#60a050" opacity="0.8"/><circle cx="313.7" cy="81.0" r="0.9" fill="#6868c8" opacity="0.8"/><circle cx="318.7" cy="70.6" r="1.0" fill="#60a050" opacity="0.8"/><circle cx="320.0" cy="70.0" r="0.8" fill="#60a050" opacity="0.8"/><circle cx="316.8" cy="79.4" r="0.8" fill="#50a080" opacity="0.8"/><circle cx="329.5" cy="78.5" r="0.8" fill="#88c060" opacity="0.8"/><circle cx="318.7" cy="83.4" r="0.6" fill="#6868c8" opacity="0.8"/><circle cx="327.9" cy="75.1" r="0.9" fill="#50a080" opacity="0.8"/><circle cx="330.9" cy="82.7" r="0.9" fill="#6868c8" opacity="0.8"/><circle cx="329.8" cy="76.0" r="0.7" fill="#a0d0a0" opacity="0.8"/><circle cx="324.3" cy="71.4" r="0.6" fill="#6868c8" opacity="0.8"/><circle cx="320.5" cy="71.6" r="0.9" fill="#6868c8" opacity="0.8"/><circle cx="330.5" cy="74.5" r="0.8" fill="#a0d0a0" opacity="0.8"/><circle cx="319.8" cy="69.3" r="0.6" fill="#50a080" opacity="0.8"/><circle cx="316.4" cy="75.3" r="0.6" fill="#88c060" opacity="0.8"/><circle cx="332.7" cy="80.1" r="0.9" fill="#6868c8" opacity="0.8"/><circle cx="318.8" cy="69.3" r="0.9" fill="#a0d0a0" opacity="0.8"/><circle cx="314.6" cy="81.5" r="1.0" fill="#a0d0a0" opacity="0.8"/><circle cx="318.9" cy="82.3" r="1.0" fill="#6868c8" opacity="0.8"/><circle cx="318.2" cy="68.8" r="0.8" fill="#a0d0a0" opacity="0.8"/><circle cx="320.3" cy="70.1" r="1.0" fill="#a0d0a0" opacity="0.8"/><circle cx="327.6" cy="81.9" r="0.8" fill="#50a080" opacity="0.8"/><circle cx="329.3" cy="82.0" r="0.5" fill="#6868c8" opacity="0.8"/><circle cx="332.7" cy="78.6" r="0.6" fill="#88c060" opacity="0.8"/><circle cx="332.1" cy="75.6" r="0.7" fill="#88c060" opacity="0.8"/><circle cx="328.5" cy="79.2" r="0.6" fill="#50a080" opacity="0.8"/><circle cx="325.7" cy="72.4" r="0.7" fill="#50a080" opacity="0.8"/><circle cx="320.0" cy="70.8" r="0.8" fill="#88c060" opacity="0.8"/><circle cx="320.0" cy="68.8" r="1.0" fill="#88c060" opacity="0.8"/><circle cx="328.2" cy="73.6" r="0.6" fill="#88c060" opacity="0.8"/><circle cx="318.6" cy="67.6" r="0.8" fill="#a0d0a0" opacity="0.8"/><circle cx="320.8" cy="68.8" r="1.0" fill="#88c060" opacity="0.8"/><circle cx="315.9" cy="71.6" r="0.5" fill="#a0d0a0" opacity="0.8"/><circle cx="319.5" cy="80.8" r="0.6" fill="#60a050" opacity="0.8"/><circle cx="316.6" cy="79.4" r="0.6" fill="#50a080" opacity="0.8"/><circle cx="313.8" cy="71.4" r="0.8" fill="#a0d0a0" opacity="0.8"/><circle cx="324.7" cy="84.3" r="0.8" fill="#a0d0a0" opacity="0.8"/><circle cx="317.2" cy="68.2" r="0.7" fill="#60a050" opacity="0.8"/><circle cx="330.0" cy="75.8" r="0.8" fill="#88c060" opacity="0.8"/><circle cx="319.3" cy="81.1" r="0.6" fill="#50a080" opacity="0.8"/><circle cx="319.8" cy="83.0" r="0.7" fill="#88c060" opacity="0.8"/><circle cx="313.9" cy="80.6" r="1.0" fill="#50a080" opacity="0.8"/><circle cx="315.8" cy="83.8" r="0.9" fill="#88c060" opacity="0.8"/><circle cx="317.4" cy="78.3" r="0.8" fill="#a0d0a0" opacity="0.8"/><circle cx="331.4" cy="74.9" r="0.8" fill="#50a080" opacity="0.8"/><circle cx="325.4" cy="71.4" r="1.0" fill="#6868c8" opacity="0.8"/><circle cx="318.8" cy="70.4" r="0.8" fill="#88c060" opacity="0.8"/><circle cx="332.1" cy="76.7" r="0.5" fill="#a0d0a0" opacity="0.8"/><circle cx="330.5" cy="78.0" r="0.9" fill="#a0d0a0" opacity="0.8"/><circle cx="329.8" cy="84.3" r="0.9" fill="#50a080" opacity="0.8"/><circle cx="313.5" cy="78.5" r="0.7" fill="#88c060" opacity="0.8"/><circle cx="318.8" cy="67.4" r="0.6" fill="#a0d0a0" opacity="0.8"/><circle cx="331.4" cy="77.4" r="0.8" fill="#60a050" opacity="0.8"/><circle cx="325.4" cy="82.8" r="0.6" fill="#a0d0a0" opacity="0.8"/><circle cx="321.2" cy="83.9" r="1.0" fill="#50a080" opacity="0.8"/><circle cx="316.0" cy="74.8" r="0.6" fill="#88c060" opacity="0.8"/><circle cx="318.1" cy="68.6" r="0.6" fill="#50a080" opacity="0.8"/><circle cx="319.0" cy="67.4" r="0.9" fill="#88c060" opacity="0.8"/><circle cx="320.5" cy="82.1" r="0.5" fill="#50a080" opacity="0.8"/><circle cx="331.7" cy="80.9" r="1.0" fill="#6868c8" opacity="0.8"/><circle cx="317.3" cy="70.9" r="0.8" fill="#a0d0a0" opacity="0.8"/><circle cx="314.9" cy="80.4" r="1.0" fill="#88c060" opacity="0.8"/><circle cx="326.1" cy="84.8" r="0.9" fill="#88c060" opacity="0.8"/><circle cx="329.9" cy="83.3" r="0.5" fill="#6868c8" opacity="0.8"/><circle cx="320.0" cy="72.1" r="0.8" fill="#88c060" opacity="0.8"/><circle cx="319.4" cy="79.3" r="0.7" fill="#50a080" opacity="0.8"/><circle cx="327.3" cy="77.7" r="0.9" fill="#60a050" opacity="0.8"/><circle cx="317.6" cy="82.9" r="0.8" fill="#50a080" opacity="0.8"/><circle cx="327.3" cy="75.9" r="0.5" fill="#6868c8" opacity="0.8"/><circle cx="318.7" cy="84.0" r="0.5" fill="#50a080" opacity="0.8"/><circle cx="326.5" cy="82.0" r="0.6" fill="#88c060" opacity="0.8"/></g><circle cx="329" cy="15.8" r="2" fill="#70c050" opacity="0.7"/></g><rect x="323.2" y="78.2" width="10.3" height="8.3" fill="none" stroke="#b8e0f0" stroke-width="0.8"/><rect x="253" y="95.8" width="3" height="1.2" fill="#fff"/><text x="322.6" y="13.9" font-size="11.9" fill="#fff">T2D</text><g clip-path="url(#cZ1)"><g filter="url(#mic1)"><rect x="104" y="-2" width="133" height="133" fill="#0a0a2a"/><circle cx="132" cy="6" r="6.7" fill="#205020"/><circle cx="146" cy="6" r="6.7" fill="#40a020"/><circle cx="117" cy="15" r="9.0" fill="#14146a"/><circle cx="117" cy="28" r="7.8" fill="#12125a"/><circle cx="131" cy="18" r="7.8" fill="#101a10"/><circle cx="145" cy="20" r="7.8" fill="#2222a0"/><circle cx="147" cy="37" r="7.8" fill="#2a2ad0"/><circle cx="134" cy="38" r="5.6" fill="#10105a"/><circle cx="118" cy="38" r="6.7" fill="#0a1418"/><circle cx="120" cy="45" r="5.6" fill="#208020"/><circle cx="156" cy="7" r="6.7" fill="#50d030"/><circle cx="173" cy="6" r="4.5" fill="#40b030"/><circle cx="189" cy="8" r="5.6" fill="#2020b0"/><circle cx="154" cy="18" r="5.6" fill="#184018"/><circle cx="153" cy="33" r="6.7" fill="#2020c0"/><circle cx="156" cy="42" r="5.6" fill="#1a1ab0"/><circle cx="164" cy="22" r="5.6" fill="#c02070"/><circle cx="173" cy="19" r="5.6" fill="#40d040"/><circle cx="183" cy="20" r="4.5" fill="#307020"/><circle cx="189" cy="27" r="4.5" fill="#b02060"/><circle cx="168" cy="33" r="5.6" fill="#0a0a30"/><circle cx="184" cy="35" r="6.7" fill="#2020c0"/><circle cx="166" cy="43" r="4.5" fill="#308030"/><circle cx="192" cy="8" r="4.5" fill="#2020a0"/><circle cx="203" cy="5" r="4.5" fill="#402060"/><circle cx="207" cy="11" r="5.6" fill="#30a030"/><circle cx="222" cy="7" r="7.8" fill="#40c020"/><circle cx="217" cy="16" r="5.6" fill="#6020b0"/><circle cx="227" cy="17" r="5.6" fill="#50a030"/><circle cx="202" cy="24" r="7.8" fill="#0a2220"/><circle cx="191" cy="27" r="3.4" fill="#a02040"/><circle cx="208" cy="27" r="3.4" fill="#402010"/><circle cx="225" cy="30" r="6.7" fill="#181860"/><circle cx="205" cy="42" r="6.7" fill="#2a20b0"/><circle cx="220" cy="42" r="5.6" fill="#2020a0"/><circle cx="198" cy="35" r="4.5" fill="#1a2a10"/><circle cx="116" cy="52" r="7.8" fill="#40d040"/><circle cx="115" cy="64" r="6.7" fill="#30c030"/><circle cx="147" cy="47" r="4.5" fill="#2020e0"/><circle cx="127" cy="56" r="4.5" fill="#b02090"/><circle cx="132" cy="47" r="5.6" fill="#208020"/><circle cx="140" cy="60" r="5.6" fill="#30b030"/><circle cx="138" cy="70" r="5.6" fill="#30c030"/><circle cx="128" cy="65" r="4.5" fill="#306030"/><circle cx="128" cy="72" r="5.6" fill="#902060"/><circle cx="147" cy="64" r="4.5" fill="#502080"/><circle cx="117" cy="76" r="5.6" fill="#201860"/><circle cx="135" cy="82" r="6.7" fill="#40d040"/><circle cx="147" cy="79" r="5.6" fill="#40d040"/><circle cx="146" cy="74" r="4.5" fill="#30a030"/><circle cx="154" cy="47" r="5.6" fill="#2020d0"/><circle cx="164" cy="46" r="3.4" fill="#80d070"/><circle cx="177" cy="47" r="5.6" fill="#1a1a90"/><circle cx="154" cy="58" r="5.6" fill="#102030"/><circle cx="168" cy="59" r="6.7" fill="#40d040"/><circle cx="184" cy="60" r="6.7" fill="#40d040"/><circle cx="166" cy="68" r="4.5" fill="#a02060"/><circle cx="176" cy="68" r="3.4" fill="#902070"/><circle cx="189" cy="70" r="3.4" fill="#902070"/><circle cx="154" cy="78" r="6.7" fill="#40c040"/><circle cx="170" cy="76" r="5.6" fill="#1a401a"/><circle cx="170" cy="82" r="4.5" fill="#181860"/><circle cx="189" cy="82" r="4.5" fill="#40d040"/><circle cx="162" cy="83" r="4.5" fill="#40c040"/><circle cx="212" cy="45" r="5.6" fill="#2020a0"/><circle cx="206" cy="53" r="6.7" fill="#40c040"/><circle cx="197" cy="58" r="5.6" fill="#b01890"/><circle cx="218" cy="57" r="6.7" fill="#103a10"/><circle cx="195" cy="67" r="4.5" fill="#502050"/><circle cx="204" cy="67" r="5.6" fill="#30a030"/><circle cx="218" cy="70" r="5.6" fill="#1a1030"/><circle cx="228" cy="60" r="5.6" fill="#2020a0"/><circle cx="228" cy="72" r="5.6" fill="#3020b0"/><circle cx="203" cy="76" r="5.6" fill="#1a5a1a"/><circle cx="214" cy="82" r="6.7" fill="#a020c0"/><circle cx="192" cy="83" r="3.4" fill="#40d040"/><circle cx="130" cy="85" r="4.5" fill="#40c040"/><circle cx="148" cy="87" r="4.5" fill="#40c040"/><circle cx="115" cy="92" r="5.6" fill="#103010"/><circle cx="133" cy="95" r="7.8" fill="#2a20b0"/><circle cx="121" cy="103" r="6.7" fill="#2020d0"/><circle cx="146" cy="102" r="5.6" fill="#40c040"/><circle cx="141" cy="94" r="3.4" fill="#806090"/><circle cx="125" cy="114" r="7.8" fill="#10104a"/><circle cx="146" cy="117" r="5.6" fill="#2020c0"/><circle cx="144" cy="109" r="4.5" fill="#103810"/><circle cx="114" cy="120" r="5.6" fill="#050510"/><circle cx="154" cy="87" r="5.6" fill="#40c040"/><circle cx="154" cy="99" r="5.6" fill="#705030"/><circle cx="170" cy="94" r="7.8" fill="#1a1aa0"/><circle cx="185" cy="97" r="6.7" fill="#2424f0"/><circle cx="189" cy="86" r="3.4" fill="#40c040"/><circle cx="170" cy="104" r="5.6" fill="#0a1a30"/><circle cx="163" cy="108" r="5.6" fill="#40c040"/><circle cx="183" cy="110" r="5.6" fill="#104010"/><circle cx="164" cy="119" r="6.7" fill="#c01890"/><circle cx="182" cy="120" r="5.6" fill="#40d040"/><circle cx="152" cy="120" r="3.4" fill="#2020b0"/><circle cx="196" cy="89" r="6.7" fill="#30b030"/><circle cx="215" cy="87" r="7.8" fill="#9020c0"/><circle cx="200" cy="100" r="5.6" fill="#101030"/><circle cx="210" cy="98" r="5.6" fill="#3020a0"/><circle cx="228" cy="106" r="4.5" fill="#802090"/><circle cx="216" cy="112" r="6.7" fill="#40d040"/><circle cx="202" cy="113" r="5.6" fill="#2a1a90"/><circle cx="192" cy="118" r="4.5" fill="#40c040"/><circle cx="227" cy="118" r="4.5" fill="#40c040"/><circle cx="226" cy="95" r="4.5" fill="#1a3010"/></g></g><g clip-path="url(#cZ2)"><g filter="url(#mic2)"><rect x="347" y="-2" width="133" height="133" fill="#07071e"/><circle cx="375" cy="5" r="5.0" fill="#2020b0"/><circle cx="361" cy="10" r="7.5" fill="#203010"/><circle cx="376" cy="13" r="7.5" fill="#050510"/><circle cx="389" cy="16" r="7.5" fill="#2020c0"/><circle cx="363" cy="24" r="7.5" fill="#2424d0"/><circle cx="374" cy="24" r="6.2" fill="#10106a"/><circle cx="386" cy="24" r="7.5" fill="#2828e0"/><circle cx="386" cy="32" r="3.8" fill="#a0e070"/><circle cx="390" cy="33" r="2.5" fill="#c0f0a0"/><circle cx="367" cy="35" r="5.0" fill="#50c040"/><circle cx="360" cy="37" r="5.0" fill="#101870"/><circle cx="375" cy="43" r="7.5" fill="#8020e0"/><circle cx="388" cy="42" r="6.2" fill="#6020d0"/><circle cx="360" cy="43" r="5.0" fill="#3020a0"/><circle cx="400" cy="6" r="6.2" fill="#2020c0"/><circle cx="415" cy="10" r="6.2" fill="#203818"/><circle cx="417" cy="7" r="2.5" fill="#90c070"/><circle cx="430" cy="12" r="5.0" fill="#2020c0"/><circle cx="400" cy="18" r="7.5" fill="#202a10"/><circle cx="422" cy="20" r="6.2" fill="#2424d0"/><circle cx="412" cy="27" r="7.5" fill="#3028d0"/><circle cx="396" cy="31" r="6.2" fill="#2020e0"/><circle cx="432" cy="28" r="3.8" fill="#40a030"/><circle cx="410" cy="37" r="7.5" fill="#301860"/><circle cx="418" cy="37" r="3.8" fill="#b0e080"/><circle cx="432" cy="37" r="3.8" fill="#60d060"/><circle cx="427" cy="42" r="6.2" fill="#9020b0"/><circle cx="441" cy="6" r="5.0" fill="#60c040"/><circle cx="451" cy="6" r="5.0" fill="#6030d0"/><circle cx="459" cy="8" r="6.2" fill="#50d050"/><circle cx="468" cy="10" r="8.8" fill="#7030e0"/><circle cx="438" cy="17" r="7.5" fill="#4020c0"/><circle cx="453" cy="14" r="6.2" fill="#50d050"/><circle cx="450" cy="16" r="2.5" fill="#80e0c0"/><circle cx="447" cy="21" r="6.2" fill="#6020d0"/><circle cx="470" cy="18" r="2.5" fill="#c0e0a0"/><circle cx="438" cy="28" r="6.2" fill="#40d040"/><circle cx="452" cy="28" r="7.5" fill="#50e050"/><circle cx="462" cy="27" r="5.0" fill="#40c040"/><circle cx="448" cy="34" r="7.5" fill="#50e050"/><circle cx="447" cy="24" r="3.8" fill="#603020"/><circle cx="470" cy="30" r="5.0" fill="#6020c0"/><circle cx="436" cy="37" r="5.0" fill="#40d040"/><circle cx="445" cy="42" r="7.5" fill="#3020c0"/><circle cx="469" cy="39" r="5.0" fill="#40c040"/><circle cx="375" cy="46" r="7.5" fill="#6020d0"/><circle cx="365" cy="55" r="7.5" fill="#40f060"/><circle cx="357" cy="56" r="3.8" fill="#103810"/><circle cx="375" cy="57" r="6.2" fill="#4040e0"/><circle cx="387" cy="56" r="7.5" fill="#2020a0"/><circle cx="364" cy="69" r="8.8" fill="#8020e0"/><circle cx="380" cy="70" r="7.5" fill="#3030d0"/><circle cx="390" cy="72" r="6.2" fill="#3030c0"/><circle cx="357" cy="75" r="3.8" fill="#a0d0e0"/><circle cx="371" cy="76" r="5.0" fill="#40e040"/><circle cx="364" cy="82" r="5.0" fill="#5030d0"/><circle cx="388" cy="81" r="5.0" fill="#50d050"/><circle cx="378" cy="82" r="5.0" fill="#6020d0"/><circle cx="405" cy="46" r="6.2" fill="#10102a"/><circle cx="420" cy="46" r="5.0" fill="#301840"/><circle cx="430" cy="46" r="5.0" fill="#6020a0"/><circle cx="416" cy="54" r="6.2" fill="#1a3a10"/><circle cx="408" cy="57" r="6.2" fill="#2020b0"/><circle cx="405" cy="56" r="2.5" fill="#6080e0"/><circle cx="421" cy="64" r="5.0" fill="#203010"/><circle cx="414" cy="68" r="3.8" fill="#60a040"/><circle cx="427" cy="64" r="6.2" fill="#2424e8"/><circle cx="397" cy="68" r="6.2" fill="#5030c0"/><circle cx="407" cy="70" r="5.0" fill="#0a0a20"/><circle cx="418" cy="77" r="8.8" fill="#2424d0"/><circle cx="399" cy="80" r="6.2" fill="#4030d0"/><circle cx="406" cy="83" r="3.8" fill="#606080"/><circle cx="450" cy="45" r="7.5" fill="#3020b0"/><circle cx="448" cy="52" r="6.2" fill="#40e040"/><circle cx="470" cy="50" r="5.0" fill="#40d040"/><circle cx="437" cy="60" r="7.5" fill="#283010"/><circle cx="462" cy="58" r="7.5" fill="#2020c0"/><circle cx="452" cy="64" r="6.2" fill="#3028c0"/><circle cx="470" cy="64" r="5.0" fill="#2020c0"/><circle cx="437" cy="76" r="5.0" fill="#202810"/><circle cx="453" cy="72" r="3.8" fill="#50a0a0"/><circle cx="465" cy="75" r="6.2" fill="#1a1020"/><circle cx="456" cy="80" r="8.8" fill="#2424d0"/><circle cx="437" cy="81" r="5.0" fill="#50c040"/><circle cx="472" cy="78" r="3.8" fill="#050505"/><circle cx="360" cy="86" r="5.0" fill="#5040d0"/><circle cx="372" cy="86" r="5.0" fill="#7020d0"/><circle cx="385" cy="86" r="5.0" fill="#8030e0"/><circle cx="362" cy="97" r="7.5" fill="#50e040"/><circle cx="370" cy="92" r="5.0" fill="#50d040"/><circle cx="381" cy="96" r="3.8" fill="#30b040"/><circle cx="384" cy="91" r="3.8" fill="#a0d060"/><circle cx="391" cy="90" r="5.0" fill="#8020e0"/><circle cx="372" cy="102" r="6.2" fill="#7020d0"/><circle cx="392" cy="97" r="2.5" fill="#d0e0f0"/><circle cx="360" cy="108" r="8.8" fill="#2020e0"/><circle cx="380" cy="107" r="8.8" fill="#2424f0"/><circle cx="390" cy="113" r="5.0" fill="#2020d0"/><circle cx="365" cy="121" r="6.2" fill="#0a0820"/><circle cx="385" cy="121" r="6.2" fill="#100a20"/><circle cx="400" cy="88" r="6.2" fill="#7020e0"/><circle cx="412" cy="88" r="6.2" fill="#5030d0"/><circle cx="428" cy="88" r="5.0" fill="#40c030"/><circle cx="425" cy="95" r="5.0" fill="#3020a0"/><circle cx="398" cy="97" r="5.0" fill="#b0a0f0"/><circle cx="406" cy="97" r="3.8" fill="#a0a0e0"/><circle cx="415" cy="100" r="3.8" fill="#60a0e0"/><circle cx="400" cy="105" r="7.5" fill="#7020e0"/><circle cx="399" cy="114" r="5.0" fill="#2020c0"/><circle cx="427" cy="108" r="6.2" fill="#201010"/><circle cx="428" cy="118" r="5.0" fill="#0a0a20"/><circle cx="412" cy="118" r="6.2" fill="#2020c0"/><circle cx="430" cy="121" r="3.8" fill="#2020c0"/><circle cx="437" cy="88" r="5.0" fill="#40c040"/><circle cx="448" cy="87" r="5.0" fill="#2020c0"/><circle cx="460" cy="88" r="5.0" fill="#2020d0"/><circle cx="455" cy="97" r="5.0" fill="#2020d0"/><circle cx="438" cy="104" r="6.2" fill="#1a1aa0"/><circle cx="438" cy="96" r="3.8" fill="#206020"/><circle cx="457" cy="113" r="7.5" fill="#2424f0"/><circle cx="469" cy="100" r="5.0" fill="#050508"/><circle cx="469" cy="115" r="5.0" fill="#050508"/><circle cx="446" cy="115" r="5.0" fill="#050510"/><circle cx="436" cy="119" r="3.8" fill="#2020b0"/></g></g><rect x="109" y="3" width="123" height="123" fill="none" stroke="#f2b9bd" stroke-width="2"/><rect x="352" y="3" width="123" height="123" fill="none" stroke="#9ad5e8" stroke-width="2"/><polygon points="134,26 138.7,37 129.3,37" fill="#1eaee8" stroke="#fff" stroke-width="1.1" stroke-linejoin="miter"/><polygon points="173,25.5 177.7,36.5 168.3,36.5" fill="#14a050" stroke="#fff" stroke-width="1.1" stroke-linejoin="miter"/><polygon points="218,24 222.7,35 213.3,35" fill="#f5a050" stroke="#fff" stroke-width="1.1" stroke-linejoin="miter"/><polygon points="216,94.5 220.7,105.5 211.3,105.5" fill="#e81818" stroke="#fff" stroke-width="1.1" stroke-linejoin="miter"/><polygon points="426.5,50 431.2,61 421.8,61" fill="#f5a050" stroke="#fff" stroke-width="1.1" stroke-linejoin="miter"/><polygon points="446.5,57 451.2,68 441.8,68" fill="#14a050" stroke="#fff" stroke-width="1.1" stroke-linejoin="miter"/><polygon points="414.5,103 419.2,114 409.8,114" fill="#1eaee8" stroke="#fff" stroke-width="1.1" stroke-linejoin="miter"/><polygon points="402,109 406.7,120 397.3,120" fill="#e81818" stroke="#fff" stroke-width="1.1" stroke-linejoin="miter"/><text x="0.1" y="147.8" font-size="17.6" fill="#000" font-weight="bold" stroke="#000" stroke-width="0.3">B</text><path d="M34.5,151 V245.5 H169.3" fill="none" stroke="#2a2a2a" stroke-width="1"/><line x1="32" x2="34" y1="156" y2="156" stroke="#888" stroke-width="0.6"/><text x="30.9" y="158.3" font-size="6.6" fill="#383838" text-anchor="end">0.100</text><line x1="32" x2="34" y1="177.25" y2="177.25" stroke="#888" stroke-width="0.6"/><text x="30.9" y="179.55" font-size="6.6" fill="#383838" text-anchor="end">0.075</text><line x1="32" x2="34" y1="198.5" y2="198.5" stroke="#888" stroke-width="0.6"/><text x="30.9" y="200.8" font-size="6.6" fill="#383838" text-anchor="end">0.050</text><line x1="32" x2="34" y1="219.75" y2="219.75" stroke="#888" stroke-width="0.6"/><text x="30.9" y="222.05" font-size="6.6" fill="#383838" text-anchor="end">0.025</text><line x1="32" x2="34" y1="241" y2="241" stroke="#888" stroke-width="0.6"/><text x="30.9" y="243.3" font-size="6.6" fill="#383838" text-anchor="end">0.000</text><line x1="37.4" x2="37.4" y1="245.4" y2="247.4" stroke="#888" stroke-width="0.6"/><text x="37.4" y="253.6" font-size="6.8" fill="#383838" text-anchor="middle">0</text><line x1="70.4" x2="70.4" y1="245.4" y2="247.4" stroke="#888" stroke-width="0.6"/><text x="70.4" y="253.6" font-size="6.8" fill="#383838" text-anchor="middle">30</text><line x1="103.3" x2="103.3" y1="245.4" y2="247.4" stroke="#888" stroke-width="0.6"/><text x="103.3" y="253.6" font-size="6.8" fill="#383838" text-anchor="middle">60</text><line x1="136.3" x2="136.3" y1="245.4" y2="247.4" stroke="#888" stroke-width="0.6"/><text x="136.3" y="253.6" font-size="6.8" fill="#383838" text-anchor="middle">90</text><line x1="169.3" x2="169.3" y1="245.4" y2="247.4" stroke="#888" stroke-width="0.6"/><text x="169.3" y="253.6" font-size="6.8" fill="#383838" text-anchor="middle">120</text><text x="59.5" y="267.3" font-size="8.4" fill="#000" textLength="86.7" lengthAdjust="spacingAndGlyphs">C-peptide intensity (au)</text><text x="10.2" y="195" font-size="8.35" fill="#000" text-anchor="middle" transform="rotate(-90 10.2 195)">Density</text><path d="M40.6,241 L40.60,224.20 C41.00,222.83 41.93,218.07 43.00,216.00 C44.07,213.93 45.67,212.22 47.00,211.80 C48.33,211.38 49.70,212.73 51.00,213.50 C52.30,214.27 53.30,215.23 54.80,216.40 C56.30,217.57 58.28,219.20 60.00,220.50 C61.72,221.80 63.27,223.07 65.10,224.20 C66.93,225.33 68.97,226.28 71.00,227.30 C73.03,228.32 75.13,229.18 77.30,230.30 C79.47,231.42 81.72,232.85 84.00,234.00 C86.28,235.15 87.83,236.23 91.00,237.20 C94.17,238.17 99.00,239.23 103.00,239.80 C107.00,240.37 108.83,240.43 115.00,240.60 C121.17,240.77 131.00,240.80 140.00,240.85 C149.00,240.90 164.17,240.89 169.00,240.90 L169,241 Z" fill="#F8766D" fill-opacity="0.5" stroke="#555" stroke-opacity="0.55" stroke-width="0.5"/><path d="M40.6,241 L40.60,222.50 C41.00,221.00 42.08,215.80 43.00,213.50 C43.92,211.20 44.93,209.23 46.10,208.70 C47.27,208.17 48.55,209.30 50.00,210.30 C51.45,211.30 53.13,213.17 54.80,214.70 C56.47,216.23 58.28,217.92 60.00,219.50 C61.72,221.08 63.27,222.65 65.10,224.20 C66.93,225.75 68.97,227.35 71.00,228.80 C73.03,230.25 75.13,231.70 77.30,232.90 C79.47,234.10 81.72,235.08 84.00,236.00 C86.28,236.92 87.80,237.72 91.00,238.40 C94.20,239.08 98.87,239.73 103.20,240.10 C107.53,240.47 110.87,240.47 117.00,240.60 C123.13,240.72 131.33,240.80 140.00,240.85 C148.67,240.90 164.17,240.89 169.00,240.90 L169,241 Z" fill="#00BFC4" fill-opacity="0.5" stroke="#555" stroke-opacity="0.55" stroke-width="0.5"/><rect x="106.9" y="152.2" width="11.2" height="10.4" fill="#e6b3b7"/><rect x="106.9" y="167.9" width="11.2" height="10.4" fill="#8cc9d9"/><text x="125.4" y="162.2" font-size="10.4" fill="#111">ND</text><text x="125.4" y="177.7" font-size="10.4" fill="#111">T2D</text><text x="174.5" y="147.9" font-size="17.6" fill="#000" font-weight="bold" stroke="#000" stroke-width="0.3">C</text><path d="M193.5,151 V245.5 H327" fill="none" stroke="#2a2a2a" stroke-width="1"/><line x1="191" x2="193" y1="156" y2="156" stroke="#888" stroke-width="0.6"/><text x="190.6" y="158.3" font-size="6.6" fill="#383838" text-anchor="end">0.100</text><line x1="191" x2="193" y1="177.25" y2="177.25" stroke="#888" stroke-width="0.6"/><text x="190.6" y="179.55" font-size="6.6" fill="#383838" text-anchor="end">0.075</text><line x1="191" x2="193" y1="198.5" y2="198.5" stroke="#888" stroke-width="0.6"/><text x="190.6" y="200.8" font-size="6.6" fill="#383838" text-anchor="end">0.050</text><line x1="191" x2="193" y1="219.75" y2="219.75" stroke="#888" stroke-width="0.6"/><text x="190.6" y="222.05" font-size="6.6" fill="#383838" text-anchor="end">0.025</text><line x1="191" x2="193" y1="241" y2="241" stroke="#888" stroke-width="0.6"/><text x="190.6" y="243.3" font-size="6.6" fill="#383838" text-anchor="end">0.000</text><line x1="199.4" x2="199.4" y1="245.4" y2="247.4" stroke="#888" stroke-width="0.6"/><text x="199.4" y="253.6" font-size="6.8" fill="#383838" text-anchor="middle">0</text><line x1="230.7" x2="230.7" y1="245.4" y2="247.4" stroke="#888" stroke-width="0.6"/><text x="230.7" y="253.6" font-size="6.8" fill="#383838" text-anchor="middle">20</text><line x1="262.0" x2="262.0" y1="245.4" y2="247.4" stroke="#888" stroke-width="0.6"/><text x="262.0" y="253.6" font-size="6.8" fill="#383838" text-anchor="middle">40</text><line x1="293.3" x2="293.3" y1="245.4" y2="247.4" stroke="#888" stroke-width="0.6"/><text x="293.3" y="253.6" font-size="6.8" fill="#383838" text-anchor="middle">60</text><line x1="324.6" x2="324.6" y1="245.4" y2="247.4" stroke="#888" stroke-width="0.6"/><text x="324.6" y="253.6" font-size="6.8" fill="#383838" text-anchor="middle">80</text><text x="225" y="266.5" font-size="8.4" fill="#000" textLength="72.7" lengthAdjust="spacingAndGlyphs">PDX1 intensity (au)</text><path d="M199.7,241 L199.70,221.40 C200.00,217.67 200.87,206.90 201.50,199.00 C202.13,191.10 202.78,180.10 203.50,174.00 C204.22,167.90 205.05,163.48 205.80,162.40 C206.55,161.32 207.13,163.62 208.00,167.50 C208.87,171.38 210.10,181.23 211.00,185.70 C211.90,190.17 212.48,191.02 213.40,194.30 C214.32,197.58 215.27,200.47 216.50,205.40 C217.73,210.33 219.27,219.60 220.80,223.90 C222.33,228.20 223.85,229.37 225.70,231.20 C227.55,233.03 230.47,234.48 231.90,234.90 C233.33,235.32 233.07,233.08 234.30,233.70 C235.53,234.32 237.03,237.58 239.30,238.60 C241.57,239.62 244.45,239.48 247.90,239.80 C251.35,240.12 252.98,240.33 260.00,240.50 C267.02,240.67 279.50,240.73 290.00,240.80 C300.50,240.87 317.50,240.88 323.00,240.90 L323,241 Z" fill="#F8766D" fill-opacity="0.5" stroke="#555" stroke-opacity="0.55" stroke-width="0.5"/><path d="M199.7,241 L199.70,222.60 C200.08,218.83 201.20,206.02 202.00,200.00 C202.80,193.98 203.72,189.28 204.50,186.50 C205.28,183.72 205.95,183.05 206.70,183.30 C207.45,183.55 208.28,185.95 209.00,188.00 C209.72,190.05 209.75,192.70 211.00,195.60 C212.25,198.50 215.07,203.15 216.50,205.40 C217.93,207.65 218.47,207.05 219.60,209.10 C220.73,211.15 221.87,214.83 223.30,217.70 C224.73,220.57 226.77,224.15 228.20,226.30 C229.63,228.45 230.67,229.68 231.90,230.60 C233.13,231.52 233.97,230.77 235.60,231.80 C237.23,232.83 239.87,235.53 241.70,236.80 C243.53,238.07 244.88,238.90 246.60,239.40 C248.32,239.90 250.27,239.80 252.00,239.80 C253.73,239.80 255.42,239.58 257.00,239.40 C258.58,239.22 260.00,238.67 261.50,238.70 C263.00,238.73 264.25,239.30 266.00,239.60 C267.75,239.90 269.67,240.30 272.00,240.50 C274.33,240.70 271.50,240.73 280.00,240.80 C288.50,240.87 315.83,240.88 323.00,240.90 L323,241 Z" fill="#00BFC4" fill-opacity="0.5" stroke="#555" stroke-opacity="0.55" stroke-width="0.5"/><text x="351.1" y="147.9" font-size="17.6" fill="#000" font-weight="bold" stroke="#000" stroke-width="0.3">D</text><text x="425.8" y="146.3" font-size="12.5" fill="#8a8a8a" textLength="59" lengthAdjust="spacingAndGlyphs">scRNAseq</text><path d="M382.5,151 V245.5 H514.5" fill="none" stroke="#2a2a2a" stroke-width="1"/><line x1="380.7" x2="382.7" y1="166.9" y2="166.9" stroke="#888" stroke-width="0.6"/><text x="379" y="170.0" font-size="8.7" fill="#2e2e2e" text-anchor="end">0.2</text><line x1="380.7" x2="382.7" y1="205.6" y2="205.6" stroke="#888" stroke-width="0.6"/><text x="379" y="208.7" font-size="8.7" fill="#2e2e2e" text-anchor="end">0.1</text><line x1="380.7" x2="382.7" y1="245" y2="245" stroke="#888" stroke-width="0.6"/><text x="379" y="248.1" font-size="8.7" fill="#2e2e2e" text-anchor="end">0.0</text><line x1="388.9" x2="388.9" y1="245.5" y2="247.5" stroke="#888" stroke-width="0.6"/><text x="388.9" y="256.4" font-size="8.7" fill="#2e2e2e" text-anchor="middle">0.0</text><line x1="430.4" x2="430.4" y1="245.5" y2="247.5" stroke="#888" stroke-width="0.6"/><text x="430.4" y="256.4" font-size="8.7" fill="#2e2e2e" text-anchor="middle">2.5</text><line x1="471.9" x2="471.9" y1="245.5" y2="247.5" stroke="#888" stroke-width="0.6"/><text x="471.9" y="256.4" font-size="8.7" fill="#2e2e2e" text-anchor="middle">5.0</text><line x1="513.4" x2="513.4" y1="245.5" y2="247.5" stroke="#888" stroke-width="0.6"/><text x="513.4" y="256.4" font-size="8.7" fill="#2e2e2e" text-anchor="middle">7.5</text><text x="362" y="200.9" font-size="8.35" fill="#000" text-anchor="middle" transform="rotate(-90 362 200.9)">Density</text><text x="427" y="267" font-size="8.3" fill="#111"><tspan font-style="italic">INS</tspan> expression</text><path d="M388.9,241.2 L388.90,204.70 C389.25,204.92 389.98,203.28 391.00,206.00 C392.02,208.72 393.18,217.18 395.00,221.00 C396.82,224.82 399.60,227.20 401.90,228.90 C404.20,230.60 406.62,230.93 408.80,231.20 C410.98,231.47 412.68,230.88 415.00,230.50 C417.32,230.12 419.70,230.48 422.70,228.90 C425.70,227.32 430.12,224.65 433.00,221.00 C435.88,217.35 437.77,211.67 440.00,207.00 C442.23,202.33 443.97,197.47 446.40,193.00 C448.83,188.53 451.52,182.67 454.60,180.20 C457.68,177.73 462.17,180.58 464.90,178.20 C467.63,175.82 469.03,168.80 471.00,165.90 C472.97,163.00 475.03,161.12 476.70,160.80 C478.37,160.48 479.90,162.30 481.00,164.00 C482.10,165.70 482.23,167.10 483.30,171.00 C484.37,174.90 486.03,181.58 487.40,187.40 C488.77,193.22 490.13,200.10 491.50,205.90 C492.87,211.70 493.88,217.08 495.60,222.20 C497.32,227.32 499.73,233.47 501.80,236.60 C503.87,239.73 506.97,240.27 508.00,241.00 L508,241.2 Z" fill="#F8766D" fill-opacity="0.5" stroke="#555" stroke-opacity="0.55" stroke-width="0.5"/><path d="M388.9,241.2 L388.90,209.90 C389.25,210.33 389.98,210.33 391.00,212.50 C392.02,214.67 393.50,220.07 395.00,222.90 C396.50,225.73 398.27,228.20 400.00,229.50 C401.73,230.80 403.40,231.12 405.40,230.70 C407.40,230.28 409.90,228.45 412.00,227.00 C414.10,225.55 416.22,223.27 418.00,222.00 C419.78,220.73 420.48,220.12 422.70,219.40 C424.92,218.68 428.75,218.93 431.30,217.70 C433.85,216.47 435.48,217.38 438.00,212.00 C440.52,206.62 443.98,192.92 446.40,185.40 C448.82,177.88 450.57,171.55 452.50,166.90 C454.43,162.25 456.28,159.38 458.00,157.50 C459.72,155.62 461.30,155.02 462.80,155.60 C464.30,156.18 465.63,158.10 467.00,161.00 C468.37,163.90 469.30,168.93 471.00,173.00 C472.70,177.07 474.80,181.97 477.20,185.40 C479.60,188.83 483.02,189.50 485.40,193.60 C487.78,197.70 489.45,204.20 491.50,210.00 C493.55,215.80 495.65,223.62 497.70,228.40 C499.75,233.18 501.92,236.60 503.80,238.70 C505.68,240.80 508.13,240.62 509.00,241.00 L509,241.2 Z" fill="#00BFC4" fill-opacity="0.5" stroke="#555" stroke-opacity="0.55" stroke-width="0.5"/><text x="2.1" y="310.2" font-size="17.6" fill="#000" font-weight="bold" stroke="#000" stroke-width="0.3">E</text><text x="41" y="307.3" font-size="9" fill="#111" font-style="italic" textLength="16" lengthAdjust="spacingAndGlyphs">Ins2</text><text x="57.30" y="304.00" font-size="6.2" fill="#111" textLength="14.8" lengthAdjust="spacingAndGlyphs">wt/wt</text><text x="37.7" y="379" font-size="9" fill="#111" font-style="italic" textLength="17.2" lengthAdjust="spacingAndGlyphs">Ins2</text><text x="55.20" y="375.70" font-size="6.2" fill="#111" textLength="17.5" lengthAdjust="spacingAndGlyphs">gfp/gfp</text><path d="M77.3,306.3 V310 H200.6 V306.3 M101,310 V314.2" fill="none" stroke="#333" stroke-width="0.9"/><text x="78.8" y="308.4" font-size="6" fill="#222">5'</text><text x="82.3" y="308.4" font-size="7.5" fill="#8a8a8a" textLength="7.4" lengthAdjust="spacingAndGlyphs">…</text><text x="90.6" y="308.4" font-size="7.5" fill="#c4c4c4" textLength="15" lengthAdjust="spacingAndGlyphs">CAG</text><text x="105.6" y="308.4" font-size="7.5" fill="#4a4a4a" textLength="82.1" lengthAdjust="spacingAndGlyphs">GTTATTGTTTCAACATG</text><text x="187.8" y="308.4" font-size="7.5" fill="#8a8a8a" textLength="6.6" lengthAdjust="spacingAndGlyphs">…</text><text x="194.6" y="308.4" font-size="6" fill="#222">3'</text><line x1="173" x2="187.7" y1="309.3" y2="309.3" stroke="#4a4a4a" stroke-width="0.6"/><line x1="62" x2="85" y1="318.2" y2="318.2" stroke="#6b6b6b" stroke-width="1.3"/><line x1="173.8" x2="193.5" y1="318.2" y2="318.2" stroke="#6b6b6b" stroke-width="1.3"/><rect x="90.8" y="314.2" width="10.2" height="8.2" fill="#c9c9c9"/><rect x="117.3" y="314.2" width="39.7" height="8.2" fill="#c9c9c9"/><rect x="85" y="314.2" width="5.8" height="8.2" fill="#6b6b6b"/><rect x="101" y="314.2" width="16.3" height="8.2" fill="#6b6b6b"/><rect x="157" y="314.2" width="16.8" height="8.2" fill="#6b6b6b"/><path d="M85.6,315 V312.4 H91.2" fill="none" stroke="#6b6b6b" stroke-width="0.8"/><text x="87.9" y="320.4" font-size="5" fill="#eee" text-anchor="middle">e1</text><text x="109.1" y="320.4" font-size="5" fill="#eee" text-anchor="middle">e2</text><text x="165.4" y="320.4" font-size="5" fill="#eee" text-anchor="middle">e3</text><path d="M39.2,330.2 V326.5 H263.5 V330.2 M117.5,326.5 V322.3" fill="none" stroke="#333" stroke-width="0.9"/><text x="41" y="334.5" font-size="6" fill="#222">5'</text><text x="44.2" y="334.5" font-size="7.5" fill="#8a8a8a" textLength="8.2" lengthAdjust="spacingAndGlyphs">…</text><text x="53.2" y="334.5" font-size="7.5" fill="#4a4a4a" textLength="179.3" lengthAdjust="spacingAndGlyphs">ACCCATGTCCCGCCGTGAAGTGGAGGACCCACAAG</text><text x="232.5" y="334.5" font-size="7.5" fill="#c4c4c4" textLength="13.5" lengthAdjust="spacingAndGlyphs">GTG</text><text x="246" y="334.5" font-size="7.5" fill="#c4c4c4" textLength="7.8" lengthAdjust="spacingAndGlyphs">…</text><text x="254.6" y="334.5" font-size="6" fill="#222">3'</text><g><line x1="85" x2="173.3" y1="338.8" y2="338.8" stroke="#e3e8ef" stroke-width="0.6"/><line x1="85" x2="173.3" y1="345.1" y2="345.1" stroke="#e3e8ef" stroke-width="0.6"/><line x1="104" x2="104" y1="338.8" y2="353.8" stroke="#d8dde6" stroke-width="0.5" stroke-dasharray="1,1.5"/><line x1="126.2" x2="126.2" y1="338.8" y2="353.8" stroke="#d8dde6" stroke-width="0.5" stroke-dasharray="1,1.5"/><line x1="148" x2="148" y1="338.8" y2="353.8" stroke="#d8dde6" stroke-width="0.5" stroke-dasharray="1,1.5"/><rect x="87.2" y="338.8" width="2.6" height="10.3" fill="#2d5f9c"/><path d="M99.3,349.1 V339.2 Q101,338.6 103.5,339.2 L105,340.6 L107.5,340.2 Q109,338.4 112,338.4 Q115.6,338.6 116.2,340.2 V349.1 Z" fill="#2d5f9c"/><path d="M156.7,349.1 V339.6 L162,339.9 L166,339.6 L170,340 L172.8,343.6 V349.1 Z" fill="#2d5f9c"/><path d="M84.9,353.8 V349.4 H89.7 V353.8 Z M92.1,353.8 V349.9 H116.1 V353.8 Z" fill="#80a2c8"/><path d="M118,353.8 L118.5,351.5 L121,350.8 L124,351.5 L127,351 L130,352.2 L133,351.8 L135,352.8 L137,351.3 L140,351.2 L143,350.6 L146,349.8 L149,349.3 L152,350 L154.5,350.5 L155.5,353.8 Z" fill="#80a2c8"/><rect x="156.7" y="349.1" width="16.1" height="4.7" fill="#80a2c8"/></g><text x="159.6" y="372.2" font-size="5.2" fill="#333" font-style="italic" textLength="11.2" lengthAdjust="spacingAndGlyphs">XhoI</text><polygon points="169.9,372.2 172.5,372.2 171.2,374.8" fill="#111"/><path d="M75.4,379.8 V384.2 H208.9 V380.2 M99.2,384.2 V388.2" fill="none" stroke="#333" stroke-width="0.9"/><text x="77.4" y="382.8" font-size="6" fill="#222">5'</text><text x="80.8" y="382.8" font-size="7.5" fill="#8a8a8a" textLength="7.5" lengthAdjust="spacingAndGlyphs">…</text><text x="88.7" y="382.8" font-size="7.5" fill="#c4c4c4" textLength="14.3" lengthAdjust="spacingAndGlyphs">CAG</text><text x="103" y="382.8" font-size="7.5" fill="#4a4a4a" textLength="68.7" lengthAdjust="spacingAndGlyphs">GTTATTGTTTCAAC</text><text x="171.7" y="382.8" font-size="7.5" fill="#1fae55" textLength="24.2" lengthAdjust="spacingAndGlyphs">TCGAG</text><text x="195.9" y="382.8" font-size="7.5" fill="#1fae55" textLength="7.2" lengthAdjust="spacingAndGlyphs">…</text><text x="203.4" y="382.8" font-size="6" fill="#222">3'</text><line x1="63.5" x2="83" y1="392.5" y2="392.5" stroke="#6b6b6b" stroke-width="1.3"/><line x1="216.4" x2="237" y1="392.5" y2="392.5" stroke="#6b6b6b" stroke-width="1.3"/><rect x="88.3" y="388" width="10.6" height="8.9" fill="#c9c9c9"/><rect x="160" y="388.4" width="40.2" height="8.5" fill="#c9c9c9"/><rect x="83" y="388" width="5.3" height="8.9" fill="#6b6b6b"/><rect x="98.9" y="388" width="1.1" height="8.9" fill="#444"/><rect x="100" y="388.4" width="56.9" height="8.5" fill="#12ad4f"/><rect x="156.9" y="388.4" width="3.1" height="8.5" fill="#555"/><rect x="200.2" y="388.4" width="16.2" height="8.5" fill="#6b6b6b"/><path d="M83.6,389 V386.5 H89.2" fill="none" stroke="#6b6b6b" stroke-width="0.8"/><text x="85.6" y="394.6" font-size="5" fill="#eee" text-anchor="middle">e1</text><text x="208.3" y="394.8" font-size="5" fill="#eee" text-anchor="middle">e3</text><text x="127.8" y="395.6" font-size="7.6" fill="#fff" text-anchor="middle">GFP</text><path d="M42,403.4 V400.3 H294.4 V404 M157.3,400.3 V397" fill="none" stroke="#333" stroke-width="0.9"/><text x="42.5" y="408.6" font-size="6" fill="#222">5'</text><text x="46.4" y="408.6" font-size="7.5" fill="#1fae55" textLength="7.6" lengthAdjust="spacingAndGlyphs">…</text><text x="54.25" y="408.6" font-size="7.5" fill="#1fae55" textLength="45.7" lengthAdjust="spacingAndGlyphs">CGTACGATG</text><text x="100" y="408.6" font-size="7.5" fill="#4a4a4a" textLength="165" lengthAdjust="spacingAndGlyphs">CATGTCCCGCCGTGAAGTGGAGGACCCACAAG</text><text x="265" y="408.6" font-size="7.5" fill="#c4c4c4" textLength="13.8" lengthAdjust="spacingAndGlyphs">GTG</text><text x="279.2" y="408.6" font-size="7.5" fill="#c4c4c4" textLength="7.4" lengthAdjust="spacingAndGlyphs">…</text><text x="287.2" y="408.6" font-size="6" fill="#222">3'</text><text x="43.8" y="417.6" font-size="5.2" fill="#333" font-style="italic" textLength="14.7" lengthAdjust="spacingAndGlyphs">BsiWI</text><polygon points="57.9,411.6 60.5,411.6 59.2,409.2" fill="#111"/><text x="305" y="345" font-size="9.8" fill="#3ccf3c" font-style="italic" textLength="18.5" lengthAdjust="spacingAndGlyphs">Ins2</text><text x="323.8" y="341.2" font-size="7" fill="#3ccf3c" textLength="13.6" lengthAdjust="spacingAndGlyphs">GFP</text><text x="340.4" y="345" font-size="9.8" fill="#3ccf3c" font-style="italic" textLength="36.4" lengthAdjust="spacingAndGlyphs">knock-in</text><path d="M313.6,356.6 C317,358.4 320.5,356 324,352.8 C328,349.4 333.5,348.6 338,352 L340.6,355" fill="none" stroke="#0d5a0d" stroke-width="2.2" stroke-linecap="round"/><path d="M313.6,356.6 C317,358.4 320.5,356 324,352.8 C328,349.4 333.5,348.6 338,352 L340.6,355" fill="none" stroke="#22b022" stroke-width="0.9" stroke-linecap="round"/><path d="M340.6,354.4 C349.5,354.4 356,360.5 356,368.2 C356,374.5 348.5,379.5 340.5,384.6 C332.5,379.5 325,374.5 325.2,368.2 C325.4,360.5 331.8,354.4 340.6,354.4 Z" fill="#2bd12b" stroke="#0b3a0b" stroke-width="0.9"/><path d="M327,371 Q329.5,365.2 336.2,367.6" fill="none" stroke="#111" stroke-width="1.6"/><path d="M345,367.6 Q351.7,365.2 354.2,371" fill="none" stroke="#111" stroke-width="1.6"/><circle cx="336.6" cy="377.4" r="1.05" fill="#111"/><circle cx="344" cy="377.4" r="1.05" fill="#111"/><ellipse cx="340.4" cy="382.6" rx="1.6" ry="1.1" fill="#111"/><path d="M337.5,381.3 L328.5,379 M337.5,382.2 L328,383.2 M338,383 L331,387.5 M343.3,381.3 L352.3,379 M343.3,382.2 L352.8,383.2 M342.8,383 L349.8,387.5" stroke="#8a8a8a" stroke-width="0.6" fill="none"/><ellipse cx="340" cy="402.6" rx="27.2" ry="16" fill="none" stroke="#6be02c" stroke-width="1.9"/><line x1="314" x2="366" y1="401" y2="401" stroke="#aaa" stroke-width="1.6"/><path d="M320,401 V394.2 H324.6" fill="none" stroke="#999" stroke-width="0.9"/><polygon points="324.3,392.8 326.6,394.2 324.3,395.6" fill="#999"/><text x="327.1" y="395" font-size="7.6" fill="#111" font-style="italic" textLength="14.4" lengthAdjust="spacingAndGlyphs">Ins2</text><rect x="327.2" y="396.5" width="33.3" height="7.8" fill="#33dd44"/><text x="344.4" y="403.5" font-size="8.2" fill="#111" text-anchor="middle" textLength="15.6" lengthAdjust="spacingAndGlyphs">GFP</text><text x="333.5" y="410" font-size="6.2" fill="#2a3a7a" font-style="italic">Ins2</text><text x="345.3" y="407.8" font-size="4.2" fill="#2a3a7a" font-style="italic">GFP/GFP</text><text x="333.5" y="417.2" font-size="6.2" fill="#2a3a7a" font-style="italic">Ins1</text><text x="345.3" y="415" font-size="4.2" fill="#2a3a7a" font-style="italic">+/+</text><text x="1.9" y="450.2" font-size="17.6" fill="#000" font-weight="bold" stroke="#000" stroke-width="0.3">F</text><path d="M38.05,452.69 V561.8 H180.5" fill="none" stroke="#111" stroke-width="1.6"/><line x1="34.45" x2="38.05" y1="561.80" y2="561.80" stroke="#111" stroke-width="1.2"/><text x="32.15" y="564.80" font-size="8.5" fill="#111" text-anchor="end" font-weight="bold" textLength="4.31" lengthAdjust="spacingAndGlyphs">0</text><line x1="34.45" x2="38.05" y1="525.43" y2="525.43" stroke="#111" stroke-width="1.2"/><text x="32.15" y="528.43" font-size="8.5" fill="#111" text-anchor="end" font-weight="bold" textLength="8.62" lengthAdjust="spacingAndGlyphs">10</text><line x1="34.45" x2="38.05" y1="489.06" y2="489.06" stroke="#111" stroke-width="1.2"/><text x="32.15" y="492.06" font-size="8.5" fill="#111" text-anchor="end" font-weight="bold" textLength="8.62" lengthAdjust="spacingAndGlyphs">20</text><line x1="34.45" x2="38.05" y1="452.69" y2="452.69" stroke="#111" stroke-width="1.2"/><text x="32.15" y="455.69" font-size="8.5" fill="#111" text-anchor="end" font-weight="bold" textLength="8.62" lengthAdjust="spacingAndGlyphs">30</text><line x1="49.20" x2="49.20" y1="561.8" y2="565.60" stroke="#111" stroke-width="1.2"/><text x="49.20" y="576.00" font-size="8.5" fill="#111" text-anchor="middle" font-weight="bold" textLength="4.31" lengthAdjust="spacingAndGlyphs">0</text><line x1="65.61" x2="65.61" y1="561.8" y2="565.60" stroke="#111" stroke-width="1.2"/><text x="65.61" y="576.00" font-size="8.5" fill="#111" text-anchor="middle" font-weight="bold" textLength="8.62" lengthAdjust="spacingAndGlyphs">15</text><line x1="82.02" x2="82.02" y1="561.8" y2="565.60" stroke="#111" stroke-width="1.2"/><text x="82.02" y="576.00" font-size="8.5" fill="#111" text-anchor="middle" font-weight="bold" textLength="8.62" lengthAdjust="spacingAndGlyphs">30</text><line x1="114.84" x2="114.84" y1="561.8" y2="565.60" stroke="#111" stroke-width="1.2"/><text x="114.84" y="576.00" font-size="8.5" fill="#111" text-anchor="middle" font-weight="bold" textLength="8.62" lengthAdjust="spacingAndGlyphs">60</text><line x1="147.66" x2="147.66" y1="561.8" y2="565.60" stroke="#111" stroke-width="1.2"/><text x="147.66" y="576.00" font-size="8.5" fill="#111" text-anchor="middle" font-weight="bold" textLength="8.62" lengthAdjust="spacingAndGlyphs">90</text><line x1="180.48" x2="180.48" y1="561.8" y2="565.60" stroke="#111" stroke-width="1.2"/><text x="180.48" y="576.00" font-size="8.5" fill="#111" text-anchor="middle" font-weight="bold" textLength="12.93" lengthAdjust="spacingAndGlyphs">120</text><text x="44.25" y="456.29" font-size="8.3" fill="#b0b0b0" font-style="italic">Female GTT</text><text x="109.8" y="587.9" font-size="8.9" fill="#111" text-anchor="middle" textLength="41.6" lengthAdjust="spacingAndGlyphs">Time (min)</text><text x="18.0" y="504.7" font-size="8.9" fill="#111" text-anchor="middle" textLength="93.7" lengthAdjust="spacingAndGlyphs" transform="rotate(-90 18.0 504.7)">Blood glucose (mmol/L)</text><path d="M49.20,522.52 V546.89 M47.30,522.52 H51.10 M47.30,546.89 H51.10" stroke="#5a5a5a" stroke-width="0.9" fill="none"/><path d="M65.61,474.88 V505.06 M63.71,474.88 H67.51 M63.71,505.06 H67.51" stroke="#5a5a5a" stroke-width="0.9" fill="none"/><path d="M82.02,493.42 V526.16 M80.12,493.42 H83.92 M80.12,526.16 H83.92" stroke="#5a5a5a" stroke-width="0.9" fill="none"/><path d="M114.84,521.43 V539.25 M112.94,521.43 H116.74 M112.94,539.25 H116.74" stroke="#5a5a5a" stroke-width="0.9" fill="none"/><path d="M147.66,527.98 V542.52 M145.76,527.98 H149.56 M145.76,542.52 H149.56" stroke="#5a5a5a" stroke-width="0.9" fill="none"/><path d="M180.48,531.61 V545.07 M178.58,531.61 H182.38 M178.58,545.07 H182.38" stroke="#5a5a5a" stroke-width="0.9" fill="none"/><path d="M49.20,526.16 V547.25 M47.30,526.16 H51.10 M47.30,547.25 H51.10" stroke="#d8ce4c" stroke-width="0.9" fill="none"/><path d="M65.61,468.69 V528.70 M63.71,468.69 H67.51 M63.71,528.70 H67.51" stroke="#d8ce4c" stroke-width="0.9" fill="none"/><path d="M82.02,486.88 V528.34 M80.12,486.88 H83.92 M80.12,528.34 H83.92" stroke="#d8ce4c" stroke-width="0.9" fill="none"/><path d="M114.84,517.43 V537.07 M112.94,517.43 H116.74 M112.94,537.07 H116.74" stroke="#d8ce4c" stroke-width="0.9" fill="none"/><path d="M147.66,526.88 V537.80 M145.76,526.88 H149.56 M145.76,537.80 H149.56" stroke="#d8ce4c" stroke-width="0.9" fill="none"/><path d="M180.48,525.79 V539.61 M178.58,525.79 H182.38 M178.58,539.61 H182.38" stroke="#d8ce4c" stroke-width="0.9" fill="none"/><path d="M49.20,523.25 V549.43 M47.30,523.25 H51.10 M47.30,549.43 H51.10" stroke="#52d852" stroke-width="0.9" fill="none"/><path d="M65.61,504.70 V515.25 M63.71,504.70 H67.51 M63.71,515.25 H67.51" stroke="#52d852" stroke-width="0.9" fill="none"/><path d="M82.02,510.88 V521.79 M80.12,510.88 H83.92 M80.12,521.79 H83.92" stroke="#52d852" stroke-width="0.9" fill="none"/><path d="M114.84,526.16 V535.61 M112.94,526.16 H116.74 M112.94,535.61 H116.74" stroke="#52d852" stroke-width="0.9" fill="none"/><path d="M147.66,528.34 V541.80 M145.76,528.34 H149.56 M145.76,541.80 H149.56" stroke="#52d852" stroke-width="0.9" fill="none"/><path d="M180.48,529.79 V537.07 M178.58,529.79 H182.38 M178.58,537.07 H182.38" stroke="#52d852" stroke-width="0.9" fill="none"/><polyline points="49.20,534.52 65.61,489.79 82.02,510.52 114.84,530.16 147.66,535.25 180.48,538.16" fill="none" stroke="#1a1a1a" stroke-width="0.9"/><polyline points="49.20,536.34 65.61,498.88 82.02,507.97 114.84,527.98 147.66,532.34 180.48,533.07" fill="none" stroke="#c9bd0e" stroke-width="0.9"/><polyline points="49.20,535.25 65.61,507.24 82.02,516.34 114.84,530.89 147.66,535.25 180.48,533.43" fill="none" stroke="#22c922" stroke-width="0.9"/><polygon points="49.20,532.22 51.40,536.12 47.00,536.12" fill="#000"/><polygon points="65.61,487.49 67.81,491.39 63.41,491.39" fill="#000"/><polygon points="82.02,508.22 84.22,512.12 79.82,512.12" fill="#000"/><polygon points="114.84,527.86 117.04,531.76 112.64,531.76" fill="#000"/><polygon points="147.66,532.95 149.86,536.85 145.46,536.85" fill="#000"/><polygon points="180.48,535.86 182.68,539.76 178.28,539.76" fill="#000"/><rect x="47.05" y="533.10" width="4.3" height="4.3" fill="#22c922"/><rect x="63.46" y="505.09" width="4.3" height="4.3" fill="#22c922"/><rect x="79.87" y="514.19" width="4.3" height="4.3" fill="#22c922"/><rect x="112.69" y="528.74" width="4.3" height="4.3" fill="#22c922"/><rect x="145.51" y="533.10" width="4.3" height="4.3" fill="#22c922"/><rect x="178.33" y="531.28" width="4.3" height="4.3" fill="#22c922"/><circle cx="49.20" cy="536.34" r="2.35" fill="#c9bd0e"/><circle cx="65.61" cy="498.88" r="2.35" fill="#c9bd0e"/><circle cx="82.02" cy="507.97" r="2.35" fill="#c9bd0e"/><circle cx="114.84" cy="527.98" r="2.35" fill="#c9bd0e"/><circle cx="147.66" cy="532.34" r="2.35" fill="#c9bd0e"/><circle cx="180.48" cy="533.07" r="2.35" fill="#c9bd0e"/><path d="M220.3,452.70 V561.5 H362" fill="none" stroke="#111" stroke-width="1.6"/><line x1="216.70" x2="220.3" y1="561.50" y2="561.50" stroke="#111" stroke-width="1.2"/><text x="214.40" y="564.50" font-size="8.5" fill="#111" text-anchor="end" font-weight="bold" textLength="4.31" lengthAdjust="spacingAndGlyphs">0</text><line x1="216.70" x2="220.3" y1="539.74" y2="539.74" stroke="#111" stroke-width="1.2"/><text x="214.40" y="542.74" font-size="8.5" fill="#111" text-anchor="end" font-weight="bold" textLength="4.31" lengthAdjust="spacingAndGlyphs">2</text><line x1="216.70" x2="220.3" y1="517.98" y2="517.98" stroke="#111" stroke-width="1.2"/><text x="214.40" y="520.98" font-size="8.5" fill="#111" text-anchor="end" font-weight="bold" textLength="4.31" lengthAdjust="spacingAndGlyphs">4</text><line x1="216.70" x2="220.3" y1="496.22" y2="496.22" stroke="#111" stroke-width="1.2"/><text x="214.40" y="499.22" font-size="8.5" fill="#111" text-anchor="end" font-weight="bold" textLength="4.31" lengthAdjust="spacingAndGlyphs">6</text><line x1="216.70" x2="220.3" y1="474.46" y2="474.46" stroke="#111" stroke-width="1.2"/><text x="214.40" y="477.46" font-size="8.5" fill="#111" text-anchor="end" font-weight="bold" textLength="4.31" lengthAdjust="spacingAndGlyphs">8</text><line x1="216.70" x2="220.3" y1="452.70" y2="452.70" stroke="#111" stroke-width="1.2"/><text x="214.40" y="455.70" font-size="8.5" fill="#111" text-anchor="end" font-weight="bold" textLength="8.62" lengthAdjust="spacingAndGlyphs">10</text><line x1="230.80" x2="230.80" y1="561.5" y2="565.30" stroke="#111" stroke-width="1.2"/><text x="230.80" y="575.70" font-size="8.5" fill="#111" text-anchor="middle" font-weight="bold" textLength="4.31" lengthAdjust="spacingAndGlyphs">0</text><line x1="247.21" x2="247.21" y1="561.5" y2="565.30" stroke="#111" stroke-width="1.2"/><text x="247.21" y="575.70" font-size="8.5" fill="#111" text-anchor="middle" font-weight="bold" textLength="8.62" lengthAdjust="spacingAndGlyphs">15</text><line x1="263.62" x2="263.62" y1="561.5" y2="565.30" stroke="#111" stroke-width="1.2"/><text x="263.62" y="575.70" font-size="8.5" fill="#111" text-anchor="middle" font-weight="bold" textLength="8.62" lengthAdjust="spacingAndGlyphs">30</text><line x1="296.44" x2="296.44" y1="561.5" y2="565.30" stroke="#111" stroke-width="1.2"/><text x="296.44" y="575.70" font-size="8.5" fill="#111" text-anchor="middle" font-weight="bold" textLength="8.62" lengthAdjust="spacingAndGlyphs">60</text><line x1="329.26" x2="329.26" y1="561.5" y2="565.30" stroke="#111" stroke-width="1.2"/><text x="329.26" y="575.70" font-size="8.5" fill="#111" text-anchor="middle" font-weight="bold" textLength="8.62" lengthAdjust="spacingAndGlyphs">90</text><line x1="362.08" x2="362.08" y1="561.5" y2="565.30" stroke="#111" stroke-width="1.2"/><text x="362.08" y="575.70" font-size="8.5" fill="#111" text-anchor="middle" font-weight="bold" textLength="12.93" lengthAdjust="spacingAndGlyphs">120</text><text x="226.50" y="456.30" font-size="8.3" fill="#b0b0b0" font-style="italic">Female ITT</text><text x="291" y="588.3" font-size="8.9" fill="#111" text-anchor="middle" textLength="41.6" lengthAdjust="spacingAndGlyphs">Time (min)</text><text x="200.2" y="505.5" font-size="8.9" fill="#111" text-anchor="middle" textLength="93.7" lengthAdjust="spacingAndGlyphs" transform="rotate(-90 200.2 505.5)">Blood glucose (mmol/L)</text><path d="M230.80,474.46 V519.07 M228.90,474.46 H232.70 M228.90,519.07 H232.70" stroke="#5a5a5a" stroke-width="0.9" fill="none"/><path d="M247.21,504.92 V530.17 M245.31,504.92 H249.11 M245.31,530.17 H249.11" stroke="#5a5a5a" stroke-width="0.9" fill="none"/><path d="M263.62,516.89 V535.93 M261.72,516.89 H265.52 M261.72,535.93 H265.52" stroke="#5a5a5a" stroke-width="0.9" fill="none"/><path d="M296.44,515.37 V544.09 M294.54,515.37 H298.34 M294.54,544.09 H298.34" stroke="#5a5a5a" stroke-width="0.9" fill="none"/><path d="M329.26,519.07 V543.55 M327.36,519.07 H331.16 M327.36,543.55 H331.16" stroke="#5a5a5a" stroke-width="0.9" fill="none"/><path d="M362.08,518.52 V538.43 M360.18,518.52 H363.98 M360.18,538.43 H363.98" stroke="#5a5a5a" stroke-width="0.9" fill="none"/><path d="M230.80,470.65 V510.69 M228.90,470.65 H232.70 M228.90,510.69 H232.70" stroke="#d8ce4c" stroke-width="0.9" fill="none"/><path d="M247.21,491.65 V514.72 M245.31,491.65 H249.11 M245.31,514.72 H249.11" stroke="#d8ce4c" stroke-width="0.9" fill="none"/><path d="M263.62,505.25 V524.51 M261.72,505.25 H265.52 M261.72,524.51 H265.52" stroke="#d8ce4c" stroke-width="0.9" fill="none"/><path d="M296.44,509.71 V527.77 M294.54,509.71 H298.34 M294.54,527.77 H298.34" stroke="#d8ce4c" stroke-width="0.9" fill="none"/><path d="M329.26,511.34 V532.12 M327.36,511.34 H331.16 M327.36,532.12 H331.16" stroke="#d8ce4c" stroke-width="0.9" fill="none"/><path d="M362.08,505.25 V519.07 M360.18,505.25 H363.98 M360.18,519.07 H363.98" stroke="#d8ce4c" stroke-width="0.9" fill="none"/><path d="M230.80,474.46 V511.45 M228.90,474.46 H232.70 M228.90,511.45 H232.70" stroke="#52d852" stroke-width="0.9" fill="none"/><path d="M247.21,488.39 V534.30 M245.31,488.39 H249.11 M245.31,534.30 H249.11" stroke="#52d852" stroke-width="0.9" fill="none"/><path d="M263.62,516.89 V536.48 M261.72,516.89 H265.52 M261.72,536.48 H265.52" stroke="#52d852" stroke-width="0.9" fill="none"/><path d="M296.44,520.16 V539.41 M294.54,520.16 H298.34 M294.54,539.41 H298.34" stroke="#52d852" stroke-width="0.9" fill="none"/><path d="M329.26,518.31 V533.21 M327.36,518.31 H331.16 M327.36,533.21 H331.16" stroke="#52d852" stroke-width="0.9" fill="none"/><path d="M362.08,516.89 V527.77 M360.18,516.89 H363.98 M360.18,527.77 H363.98" stroke="#52d852" stroke-width="0.9" fill="none"/><polyline points="230.80,497.31 247.21,517.44 263.62,526.68 296.44,529.95 329.26,531.25 362.08,528.53" fill="none" stroke="#1a1a1a" stroke-width="0.9"/><polyline points="230.80,491.32 247.21,503.07 263.62,514.72 296.44,518.85 329.26,522.01 362.08,512.10" fill="none" stroke="#c9bd0e" stroke-width="0.9"/><polyline points="230.80,492.96 247.21,510.69 263.62,527.12 296.44,529.84 329.26,525.70 362.08,522.01" fill="none" stroke="#22c922" stroke-width="0.9"/><polygon points="230.80,495.01 233.00,498.91 228.60,498.91" fill="#000"/><polygon points="247.21,515.14 249.41,519.04 245.01,519.04" fill="#000"/><polygon points="263.62,524.38 265.82,528.28 261.42,528.28" fill="#000"/><polygon points="296.44,527.65 298.64,531.55 294.24,531.55" fill="#000"/><polygon points="329.26,528.95 331.46,532.85 327.06,532.85" fill="#000"/><polygon points="362.08,526.23 364.28,530.13 359.88,530.13" fill="#000"/><rect x="228.65" y="490.81" width="4.3" height="4.3" fill="#22c922"/><rect x="245.06" y="508.54" width="4.3" height="4.3" fill="#22c922"/><rect x="261.47" y="524.97" width="4.3" height="4.3" fill="#22c922"/><rect x="294.29" y="527.69" width="4.3" height="4.3" fill="#22c922"/><rect x="327.11" y="523.55" width="4.3" height="4.3" fill="#22c922"/><rect x="359.93" y="519.86" width="4.3" height="4.3" fill="#22c922"/><circle cx="230.80" cy="491.32" r="2.35" fill="#c9bd0e"/><circle cx="247.21" cy="503.07" r="2.35" fill="#c9bd0e"/><circle cx="263.62" cy="514.72" r="2.35" fill="#c9bd0e"/><circle cx="296.44" cy="518.85" r="2.35" fill="#c9bd0e"/><circle cx="329.26" cy="522.01" r="2.35" fill="#c9bd0e"/><circle cx="362.08" cy="512.10" r="2.35" fill="#c9bd0e"/><path d="M40.1,593.00 V701 H181.4" fill="none" stroke="#111" stroke-width="1.6"/><line x1="36.50" x2="40.1" y1="701.00" y2="701.00" stroke="#111" stroke-width="1.2"/><text x="34.20" y="704.00" font-size="8.5" fill="#111" text-anchor="end" font-weight="bold" textLength="4.31" lengthAdjust="spacingAndGlyphs">0</text><line x1="36.50" x2="40.1" y1="665.00" y2="665.00" stroke="#111" stroke-width="1.2"/><text x="34.20" y="668.00" font-size="8.5" fill="#111" text-anchor="end" font-weight="bold" textLength="8.62" lengthAdjust="spacingAndGlyphs">10</text><line x1="36.50" x2="40.1" y1="629.00" y2="629.00" stroke="#111" stroke-width="1.2"/><text x="34.20" y="632.00" font-size="8.5" fill="#111" text-anchor="end" font-weight="bold" textLength="8.62" lengthAdjust="spacingAndGlyphs">20</text><line x1="36.50" x2="40.1" y1="593.00" y2="593.00" stroke="#111" stroke-width="1.2"/><text x="34.20" y="596.00" font-size="8.5" fill="#111" text-anchor="end" font-weight="bold" textLength="8.62" lengthAdjust="spacingAndGlyphs">30</text><line x1="50.80" x2="50.80" y1="701" y2="704.80" stroke="#111" stroke-width="1.2"/><text x="50.80" y="715.20" font-size="8.5" fill="#111" text-anchor="middle" font-weight="bold" textLength="4.31" lengthAdjust="spacingAndGlyphs">0</text><line x1="67.12" x2="67.12" y1="701" y2="704.80" stroke="#111" stroke-width="1.2"/><text x="67.12" y="715.20" font-size="8.5" fill="#111" text-anchor="middle" font-weight="bold" textLength="8.62" lengthAdjust="spacingAndGlyphs">15</text><line x1="83.44" x2="83.44" y1="701" y2="704.80" stroke="#111" stroke-width="1.2"/><text x="83.44" y="715.20" font-size="8.5" fill="#111" text-anchor="middle" font-weight="bold" textLength="8.62" lengthAdjust="spacingAndGlyphs">30</text><line x1="116.08" x2="116.08" y1="701" y2="704.80" stroke="#111" stroke-width="1.2"/><text x="116.08" y="715.20" font-size="8.5" fill="#111" text-anchor="middle" font-weight="bold" textLength="8.62" lengthAdjust="spacingAndGlyphs">60</text><line x1="148.72" x2="148.72" y1="701" y2="704.80" stroke="#111" stroke-width="1.2"/><text x="148.72" y="715.20" font-size="8.5" fill="#111" text-anchor="middle" font-weight="bold" textLength="8.62" lengthAdjust="spacingAndGlyphs">90</text><line x1="181.36" x2="181.36" y1="701" y2="704.80" stroke="#111" stroke-width="1.2"/><text x="181.36" y="715.20" font-size="8.5" fill="#111" text-anchor="middle" font-weight="bold" textLength="12.93" lengthAdjust="spacingAndGlyphs">120</text><text x="46.30" y="596.60" font-size="8.3" fill="#b0b0b0" font-style="italic">Male GTT</text><text x="110" y="727.4" font-size="8.9" fill="#111" text-anchor="middle" textLength="41.6" lengthAdjust="spacingAndGlyphs">Time (min)</text><text x="20.0" y="646" font-size="8.9" fill="#111" text-anchor="middle" textLength="93.7" lengthAdjust="spacingAndGlyphs" transform="rotate(-90 20.0 646)">Blood glucose (mmol/L)</text><path d="M50.80,669.32 V681.92 M48.90,669.32 H52.70 M48.90,681.92 H52.70" stroke="#5a5a5a" stroke-width="0.9" fill="none"/><path d="M67.12,605.96 V638.00 M65.22,605.96 H69.02 M65.22,638.00 H69.02" stroke="#5a5a5a" stroke-width="0.9" fill="none"/><path d="M83.44,627.20 V654.20 M81.54,627.20 H85.34 M81.54,654.20 H85.34" stroke="#5a5a5a" stroke-width="0.9" fill="none"/><path d="M116.08,649.16 V671.30 M114.18,649.16 H117.98 M114.18,671.30 H117.98" stroke="#5a5a5a" stroke-width="0.9" fill="none"/><path d="M148.72,659.60 V674.00 M146.82,659.60 H150.62 M146.82,674.00 H150.62" stroke="#5a5a5a" stroke-width="0.9" fill="none"/><path d="M181.36,666.44 V677.60 M179.46,666.44 H183.26 M179.46,677.60 H183.26" stroke="#5a5a5a" stroke-width="0.9" fill="none"/><path d="M50.80,673.64 V680.12 M48.90,673.64 H52.70 M48.90,680.12 H52.70" stroke="#d8ce4c" stroke-width="0.9" fill="none"/><path d="M67.12,623.60 V639.08 M65.22,623.60 H69.02 M65.22,639.08 H69.02" stroke="#d8ce4c" stroke-width="0.9" fill="none"/><path d="M83.44,620.00 V637.28 M81.54,620.00 H85.34 M81.54,637.28 H85.34" stroke="#d8ce4c" stroke-width="0.9" fill="none"/><path d="M116.08,639.08 V668.24 M114.18,639.08 H117.98 M114.18,668.24 H117.98" stroke="#d8ce4c" stroke-width="0.9" fill="none"/><path d="M148.72,656.36 V676.52 M146.82,656.36 H150.62 M146.82,676.52 H150.62" stroke="#d8ce4c" stroke-width="0.9" fill="none"/><path d="M181.36,668.96 V678.68 M179.46,668.96 H183.26 M179.46,678.68 H183.26" stroke="#d8ce4c" stroke-width="0.9" fill="none"/><path d="M50.80,670.40 V680.84 M48.90,670.40 H52.70 M48.90,680.84 H52.70" stroke="#52d852" stroke-width="0.9" fill="none"/><path d="M67.12,625.40 V651.32 M65.22,625.40 H69.02 M65.22,651.32 H69.02" stroke="#52d852" stroke-width="0.9" fill="none"/><path d="M83.44,630.80 V651.32 M81.54,630.80 H85.34 M81.54,651.32 H85.34" stroke="#52d852" stroke-width="0.9" fill="none"/><path d="M116.08,645.20 V670.04 M114.18,645.20 H117.98 M114.18,670.04 H117.98" stroke="#52d852" stroke-width="0.9" fill="none"/><path d="M148.72,661.40 V673.64 M146.82,661.40 H150.62 M146.82,673.64 H150.62" stroke="#52d852" stroke-width="0.9" fill="none"/><path d="M181.36,671.48 V678.68 M179.46,671.48 H183.26 M179.46,678.68 H183.26" stroke="#52d852" stroke-width="0.9" fill="none"/><polyline points="50.80,673.64 67.12,622.16 83.44,638.00 116.08,660.68 148.72,666.80 181.36,671.84" fill="none" stroke="#1a1a1a" stroke-width="0.9"/><polyline points="50.80,676.88 67.12,631.52 83.44,628.64 116.08,654.20 148.72,666.08 181.36,674.00" fill="none" stroke="#c9bd0e" stroke-width="0.9"/><polyline points="50.80,675.08 67.12,638.72 83.44,640.88 116.08,657.80 148.72,667.52 181.36,675.08" fill="none" stroke="#22c922" stroke-width="0.9"/><polygon points="50.80,671.34 53.00,675.24 48.60,675.24" fill="#000"/><polygon points="67.12,619.86 69.32,623.76 64.92,623.76" fill="#000"/><polygon points="83.44,635.70 85.64,639.60 81.24,639.60" fill="#000"/><polygon points="116.08,658.38 118.28,662.28 113.88,662.28" fill="#000"/><polygon points="148.72,664.50 150.92,668.40 146.52,668.40" fill="#000"/><polygon points="181.36,669.54 183.56,673.44 179.16,673.44" fill="#000"/><rect x="48.65" y="672.93" width="4.3" height="4.3" fill="#22c922"/><rect x="64.97" y="636.57" width="4.3" height="4.3" fill="#22c922"/><rect x="81.29" y="638.73" width="4.3" height="4.3" fill="#22c922"/><rect x="113.93" y="655.65" width="4.3" height="4.3" fill="#22c922"/><rect x="146.57" y="665.37" width="4.3" height="4.3" fill="#22c922"/><rect x="179.21" y="672.93" width="4.3" height="4.3" fill="#22c922"/><circle cx="50.80" cy="676.88" r="2.35" fill="#c9bd0e"/><circle cx="67.12" cy="631.52" r="2.35" fill="#c9bd0e"/><circle cx="83.44" cy="628.64" r="2.35" fill="#c9bd0e"/><circle cx="116.08" cy="654.20" r="2.35" fill="#c9bd0e"/><circle cx="148.72" cy="666.08" r="2.35" fill="#c9bd0e"/><circle cx="181.36" cy="674.00" r="2.35" fill="#c9bd0e"/><path d="M222.1,593.40 V702 H363.9" fill="none" stroke="#111" stroke-width="1.6"/><line x1="218.50" x2="222.1" y1="702.00" y2="702.00" stroke="#111" stroke-width="1.2"/><text x="216.20" y="705.00" font-size="8.5" fill="#111" text-anchor="end" font-weight="bold" textLength="4.31" lengthAdjust="spacingAndGlyphs">0</text><line x1="218.50" x2="222.1" y1="680.28" y2="680.28" stroke="#111" stroke-width="1.2"/><text x="216.20" y="683.28" font-size="8.5" fill="#111" text-anchor="end" font-weight="bold" textLength="4.31" lengthAdjust="spacingAndGlyphs">2</text><line x1="218.50" x2="222.1" y1="658.56" y2="658.56" stroke="#111" stroke-width="1.2"/><text x="216.20" y="661.56" font-size="8.5" fill="#111" text-anchor="end" font-weight="bold" textLength="4.31" lengthAdjust="spacingAndGlyphs">4</text><line x1="218.50" x2="222.1" y1="636.84" y2="636.84" stroke="#111" stroke-width="1.2"/><text x="216.20" y="639.84" font-size="8.5" fill="#111" text-anchor="end" font-weight="bold" textLength="4.31" lengthAdjust="spacingAndGlyphs">6</text><line x1="218.50" x2="222.1" y1="615.12" y2="615.12" stroke="#111" stroke-width="1.2"/><text x="216.20" y="618.12" font-size="8.5" fill="#111" text-anchor="end" font-weight="bold" textLength="4.31" lengthAdjust="spacingAndGlyphs">8</text><line x1="218.50" x2="222.1" y1="593.40" y2="593.40" stroke="#111" stroke-width="1.2"/><text x="216.20" y="596.40" font-size="8.5" fill="#111" text-anchor="end" font-weight="bold" textLength="8.62" lengthAdjust="spacingAndGlyphs">10</text><line x1="232.80" x2="232.80" y1="702" y2="705.80" stroke="#111" stroke-width="1.2"/><text x="232.80" y="716.20" font-size="8.5" fill="#111" text-anchor="middle" font-weight="bold" textLength="4.31" lengthAdjust="spacingAndGlyphs">0</text><line x1="249.19" x2="249.19" y1="702" y2="705.80" stroke="#111" stroke-width="1.2"/><text x="249.19" y="716.20" font-size="8.5" fill="#111" text-anchor="middle" font-weight="bold" textLength="8.62" lengthAdjust="spacingAndGlyphs">15</text><line x1="265.57" x2="265.57" y1="702" y2="705.80" stroke="#111" stroke-width="1.2"/><text x="265.57" y="716.20" font-size="8.5" fill="#111" text-anchor="middle" font-weight="bold" textLength="8.62" lengthAdjust="spacingAndGlyphs">30</text><line x1="298.35" x2="298.35" y1="702" y2="705.80" stroke="#111" stroke-width="1.2"/><text x="298.35" y="716.20" font-size="8.5" fill="#111" text-anchor="middle" font-weight="bold" textLength="8.62" lengthAdjust="spacingAndGlyphs">60</text><line x1="331.12" x2="331.12" y1="702" y2="705.80" stroke="#111" stroke-width="1.2"/><text x="331.12" y="716.20" font-size="8.5" fill="#111" text-anchor="middle" font-weight="bold" textLength="8.62" lengthAdjust="spacingAndGlyphs">90</text><line x1="363.90" x2="363.90" y1="702" y2="705.80" stroke="#111" stroke-width="1.2"/><text x="363.90" y="716.20" font-size="8.5" fill="#111" text-anchor="middle" font-weight="bold" textLength="12.93" lengthAdjust="spacingAndGlyphs">120</text><text x="228.30" y="597.00" font-size="8.3" fill="#b0b0b0" font-style="italic">Male ITT</text><text x="293" y="727.6" font-size="8.9" fill="#111" text-anchor="middle" textLength="41.6" lengthAdjust="spacingAndGlyphs">Time (min)</text><text x="202.3" y="646" font-size="8.9" fill="#111" text-anchor="middle" textLength="93.7" lengthAdjust="spacingAndGlyphs" transform="rotate(-90 202.3 646)">Blood glucose (mmol/L)</text><path d="M232.80,616.21 V639.01 M230.90,616.21 H234.70 M230.90,639.01 H234.70" stroke="#5a5a5a" stroke-width="0.9" fill="none"/><path d="M249.19,615.12 V657.47 M247.29,615.12 H251.09 M247.29,657.47 H251.09" stroke="#5a5a5a" stroke-width="0.9" fill="none"/><path d="M265.57,632.50 V661.82 M263.68,632.50 H267.47 M263.68,661.82 H267.47" stroke="#5a5a5a" stroke-width="0.9" fill="none"/><path d="M298.35,625.98 V663.34 M296.45,625.98 H300.25 M296.45,663.34 H300.25" stroke="#5a5a5a" stroke-width="0.9" fill="none"/><path d="M331.12,620.55 V668.33 M329.23,620.55 H333.02 M329.23,668.33 H333.02" stroke="#5a5a5a" stroke-width="0.9" fill="none"/><path d="M363.90,621.64 V665.08 M362.00,621.64 H365.80 M362.00,665.08 H365.80" stroke="#5a5a5a" stroke-width="0.9" fill="none"/><path d="M232.80,622.72 V633.58 M230.90,622.72 H234.70 M230.90,633.58 H234.70" stroke="#d8ce4c" stroke-width="0.9" fill="none"/><path d="M249.19,610.78 V642.27 M247.29,610.78 H251.09 M247.29,642.27 H251.09" stroke="#d8ce4c" stroke-width="0.9" fill="none"/><path d="M265.57,644.44 V656.39 M263.68,644.44 H267.47 M263.68,656.39 H267.47" stroke="#d8ce4c" stroke-width="0.9" fill="none"/><path d="M298.35,644.44 V657.47 M296.45,644.44 H300.25 M296.45,657.47 H300.25" stroke="#d8ce4c" stroke-width="0.9" fill="none"/><path d="M331.12,642.27 V661.82 M329.23,642.27 H333.02 M329.23,661.82 H333.02" stroke="#d8ce4c" stroke-width="0.9" fill="none"/><path d="M363.90,633.58 V659.65 M362.00,633.58 H365.80 M362.00,659.65 H365.80" stroke="#d8ce4c" stroke-width="0.9" fill="none"/><path d="M232.80,616.21 V637.93 M230.90,616.21 H234.70 M230.90,637.93 H234.70" stroke="#52d852" stroke-width="0.9" fill="none"/><path d="M249.19,622.72 V646.61 M247.29,622.72 H251.09 M247.29,646.61 H251.09" stroke="#52d852" stroke-width="0.9" fill="none"/><path d="M265.57,632.50 V665.08 M263.68,632.50 H267.47 M263.68,665.08 H267.47" stroke="#52d852" stroke-width="0.9" fill="none"/><path d="M298.35,636.84 V666.16 M296.45,636.84 H300.25 M296.45,666.16 H300.25" stroke="#52d852" stroke-width="0.9" fill="none"/><path d="M331.12,633.58 V663.99 M329.23,633.58 H333.02 M329.23,663.99 H333.02" stroke="#52d852" stroke-width="0.9" fill="none"/><path d="M363.90,628.15 V662.90 M362.00,628.15 H365.80 M362.00,662.90 H365.80" stroke="#52d852" stroke-width="0.9" fill="none"/><polyline points="232.80,628.15 249.19,636.84 265.57,646.61 298.35,644.77 331.12,644.77 363.90,643.25" fill="none" stroke="#1a1a1a" stroke-width="0.9"/><polyline points="232.80,627.61 249.19,626.41 265.57,650.41 298.35,651.28 331.12,651.28 363.90,647.16" fill="none" stroke="#c9bd0e" stroke-width="0.9"/><polyline points="232.80,627.61 249.19,634.67 265.57,648.24 298.35,654.87 331.12,649.33 363.90,645.20" fill="none" stroke="#22c922" stroke-width="0.9"/><polygon points="232.80,625.85 235.00,629.75 230.60,629.75" fill="#000"/><polygon points="249.19,634.54 251.39,638.44 246.99,638.44" fill="#000"/><polygon points="265.57,644.31 267.77,648.21 263.38,648.21" fill="#000"/><polygon points="298.35,642.47 300.55,646.37 296.15,646.37" fill="#000"/><polygon points="331.12,642.47 333.32,646.37 328.93,646.37" fill="#000"/><polygon points="363.90,640.95 366.10,644.85 361.70,644.85" fill="#000"/><rect x="230.65" y="625.46" width="4.3" height="4.3" fill="#22c922"/><rect x="247.04" y="632.52" width="4.3" height="4.3" fill="#22c922"/><rect x="263.43" y="646.09" width="4.3" height="4.3" fill="#22c922"/><rect x="296.20" y="652.72" width="4.3" height="4.3" fill="#22c922"/><rect x="328.98" y="647.18" width="4.3" height="4.3" fill="#22c922"/><rect x="361.75" y="643.05" width="4.3" height="4.3" fill="#22c922"/><circle cx="232.80" cy="627.61" r="2.35" fill="#c9bd0e"/><circle cx="249.19" cy="626.41" r="2.35" fill="#c9bd0e"/><circle cx="265.57" cy="650.41" r="2.35" fill="#c9bd0e"/><circle cx="298.35" cy="651.28" r="2.35" fill="#c9bd0e"/><circle cx="331.12" cy="651.28" r="2.35" fill="#c9bd0e"/><circle cx="363.90" cy="647.16" r="2.35" fill="#c9bd0e"/><line x1="122" x2="132.8" y1="465.2" y2="465.2" stroke="#555" stroke-width="1"/><polygon points="127.40,462.90 129.60,466.80 125.20,466.80" fill="#000"/><text x="138.9" y="469.09999999999997" font-size="8.6" fill="#111" font-style="italic" textLength="15.4" lengthAdjust="spacingAndGlyphs">Ins2</text><text x="154.6" y="464.8" font-size="5.9" fill="#111" textLength="21.6" lengthAdjust="spacingAndGlyphs">WT/WT</text><line x1="122" x2="132.8" y1="481.2" y2="481.2" stroke="#d8ce4c" stroke-width="1"/><circle cx="127.40" cy="481.20" r="2.35" fill="#c9bd0e"/><text x="138.9" y="485.09999999999997" font-size="8.6" fill="#111" font-style="italic" textLength="15.4" lengthAdjust="spacingAndGlyphs">Ins2</text><text x="154.6" y="480.8" font-size="5.9" fill="#111" textLength="25.3" lengthAdjust="spacingAndGlyphs">WT/GFP</text><line x1="122" x2="132.8" y1="497.4" y2="497.4" stroke="#52d852" stroke-width="1"/><rect x="125.25" y="495.25" width="4.3" height="4.3" fill="#22c922"/><text x="138.9" y="501.29999999999995" font-size="8.6" fill="#111" font-style="italic" textLength="15.4" lengthAdjust="spacingAndGlyphs">Ins2</text><text x="154.6" y="497.0" font-size="5.9" fill="#111" textLength="28.3" lengthAdjust="spacingAndGlyphs">GFP/GFP</text>
</svg>
</body></html>
